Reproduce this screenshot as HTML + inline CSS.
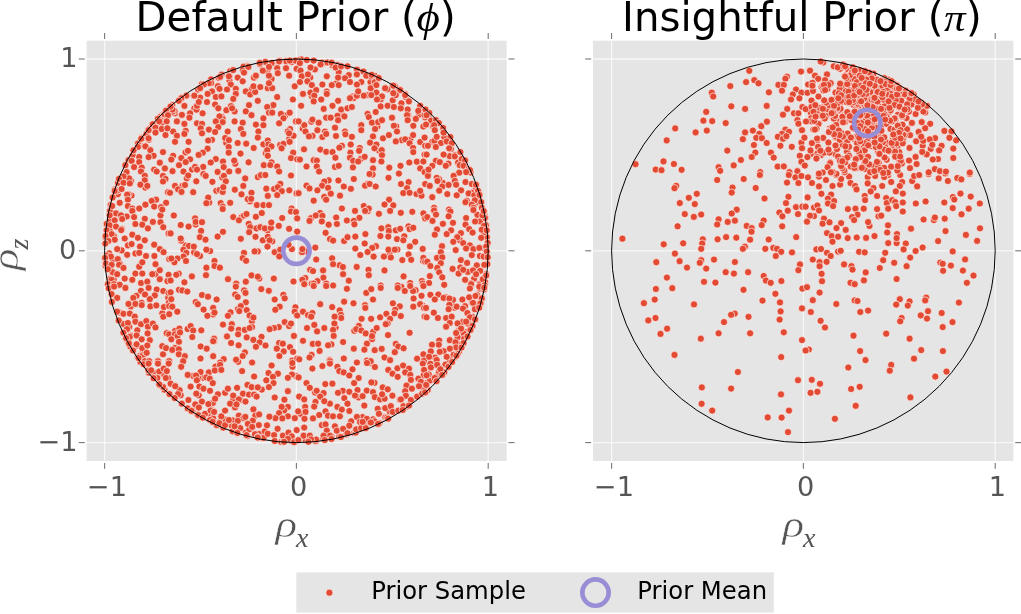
<!DOCTYPE html>
<html><head><meta charset="utf-8"><title>Priors</title>
<style>
html,body{margin:0;padding:0;background:#fff;}
svg{display:block}
text{font-family:"DejaVu Sans","Liberation Sans",sans-serif;}
.tk{font-size:27.2px;fill:#555555;}
.ti{font-size:40.3px;fill:#000;}
.tm{font-family:"Liberation Serif","DejaVu Serif",serif;font-style:italic;}
.lg{font-size:24.3px;fill:#000;}
.lb{font-size:38px;fill:#555555;}
.m{font-family:"Liberation Serif","DejaVu Serif",serif;font-style:italic;fill:#555555;}
.rho{font-size:37px;stroke:#fff;stroke-width:0.5px;}
.sub{font-size:28px;}
</style></head>
<body>
<svg width="1021" height="614" viewBox="0 0 1021 614">
<rect width="1021" height="614" fill="#fff"/>
<rect x="86.6" y="40.7" width="420.1" height="420.3" fill="#E5E5E5"/>
<line x1="104.6" y1="40.7" x2="104.6" y2="461.0" stroke="#fff" stroke-opacity="0.7" stroke-width="1.3"/>
<line x1="86.6" y1="442.6" x2="506.7" y2="442.6" stroke="#fff" stroke-opacity="0.7" stroke-width="1.3"/>
<line x1="104.6" y1="463.0" x2="104.6" y2="468.8" stroke="#777777" stroke-width="1.1"/>
<line x1="104.6" y1="39.0" x2="104.6" y2="33.0" stroke="#777777" stroke-width="1.1"/>
<line x1="84.8" y1="442.6" x2="78.8" y2="442.6" stroke="#777777" stroke-width="1.1"/>
<line x1="508.5" y1="442.6" x2="514.5" y2="442.6" stroke="#777777" stroke-width="1.1"/>
<line x1="296.4" y1="40.7" x2="296.4" y2="461.0" stroke="#fff" stroke-opacity="0.7" stroke-width="1.3"/>
<line x1="86.6" y1="250.8" x2="506.7" y2="250.8" stroke="#fff" stroke-opacity="0.7" stroke-width="1.3"/>
<line x1="296.4" y1="463.0" x2="296.4" y2="468.8" stroke="#777777" stroke-width="1.1"/>
<line x1="296.4" y1="39.0" x2="296.4" y2="33.0" stroke="#777777" stroke-width="1.1"/>
<line x1="84.8" y1="250.8" x2="78.8" y2="250.8" stroke="#777777" stroke-width="1.1"/>
<line x1="508.5" y1="250.8" x2="514.5" y2="250.8" stroke="#777777" stroke-width="1.1"/>
<line x1="488.2" y1="40.7" x2="488.2" y2="461.0" stroke="#fff" stroke-opacity="0.7" stroke-width="1.3"/>
<line x1="86.6" y1="59.0" x2="506.7" y2="59.0" stroke="#fff" stroke-opacity="0.7" stroke-width="1.3"/>
<line x1="488.2" y1="463.0" x2="488.2" y2="468.8" stroke="#777777" stroke-width="1.1"/>
<line x1="488.2" y1="39.0" x2="488.2" y2="33.0" stroke="#777777" stroke-width="1.1"/>
<line x1="84.8" y1="59.0" x2="78.8" y2="59.0" stroke="#777777" stroke-width="1.1"/>
<line x1="508.5" y1="59.0" x2="514.5" y2="59.0" stroke="#777777" stroke-width="1.1"/>
<g fill="#E24A33" stroke="#fff" stroke-width="0.65"><circle cx="315.9" cy="441.2" r="3.58"/><circle cx="122.2" cy="177.0" r="3.58"/><circle cx="140.3" cy="145.5" r="3.58"/><circle cx="281.3" cy="441.9" r="3.58"/><circle cx="484.5" cy="285.8" r="3.58"/><circle cx="458.1" cy="162.4" r="3.58"/><circle cx="400.0" cy="89.7" r="3.58"/><circle cx="172.3" cy="105.1" r="3.58"/><circle cx="112.7" cy="259.7" r="3.58"/><circle cx="465.9" cy="169.2" r="3.58"/><circle cx="475.9" cy="188.1" r="3.58"/><circle cx="332.5" cy="65.2" r="3.58"/><circle cx="154.9" cy="127.6" r="3.58"/><circle cx="283.6" cy="441.1" r="3.58"/><circle cx="148.9" cy="372.7" r="3.58"/><circle cx="479.4" cy="216.8" r="3.58"/><circle cx="476.5" cy="198.5" r="3.58"/><circle cx="115.8" cy="194.7" r="3.58"/><circle cx="427.7" cy="382.3" r="3.58"/><circle cx="458.9" cy="346.9" r="3.58"/><circle cx="175.0" cy="113.3" r="3.58"/><circle cx="441.6" cy="375.0" r="3.58"/><circle cx="466.7" cy="332.1" r="3.58"/><circle cx="138.7" cy="146.0" r="3.58"/><circle cx="291.7" cy="441.0" r="3.58"/><circle cx="171.5" cy="109.8" r="3.58"/><circle cx="405.1" cy="93.8" r="3.58"/><circle cx="130.8" cy="335.4" r="3.58"/><circle cx="454.9" cy="155.1" r="3.58"/><circle cx="197.3" cy="414.5" r="3.58"/><circle cx="365.3" cy="427.3" r="3.58"/><circle cx="460.8" cy="347.5" r="3.58"/><circle cx="115.0" cy="189.4" r="3.58"/><circle cx="433.1" cy="126.6" r="3.58"/><circle cx="451.6" cy="359.9" r="3.58"/><circle cx="427.7" cy="390.0" r="3.58"/><circle cx="480.1" cy="288.7" r="3.58"/><circle cx="137.7" cy="357.2" r="3.58"/><circle cx="210.9" cy="414.5" r="3.58"/><circle cx="162.8" cy="114.3" r="3.58"/><circle cx="374.6" cy="75.8" r="3.58"/><circle cx="246.9" cy="66.2" r="3.58"/><circle cx="261.5" cy="437.9" r="3.58"/><circle cx="210.4" cy="82.0" r="3.58"/><circle cx="230.2" cy="423.1" r="3.58"/><circle cx="109.2" cy="253.3" r="3.58"/><circle cx="115.7" cy="190.8" r="3.58"/><circle cx="484.1" cy="289.5" r="3.58"/><circle cx="392.6" cy="85.5" r="3.58"/><circle cx="113.8" cy="236.0" r="3.58"/><circle cx="398.2" cy="91.0" r="3.58"/><circle cx="469.4" cy="322.5" r="3.58"/><circle cx="105.3" cy="237.1" r="3.58"/><circle cx="202.0" cy="84.0" r="3.58"/><circle cx="387.4" cy="89.3" r="3.58"/><circle cx="140.0" cy="355.8" r="3.58"/><circle cx="143.0" cy="137.8" r="3.58"/><circle cx="429.3" cy="114.3" r="3.58"/><circle cx="484.0" cy="212.1" r="3.58"/><circle cx="148.1" cy="130.1" r="3.58"/><circle cx="130.3" cy="346.5" r="3.58"/><circle cx="112.2" cy="272.7" r="3.58"/><circle cx="449.7" cy="362.1" r="3.58"/><circle cx="459.0" cy="351.7" r="3.58"/><circle cx="468.4" cy="323.6" r="3.58"/><circle cx="355.1" cy="432.7" r="3.58"/><circle cx="106.7" cy="223.9" r="3.58"/><circle cx="110.2" cy="278.8" r="3.58"/><circle cx="148.8" cy="139.7" r="3.58"/><circle cx="141.7" cy="137.7" r="3.58"/><circle cx="476.0" cy="202.8" r="3.58"/><circle cx="354.1" cy="433.0" r="3.58"/><circle cx="301.2" cy="59.4" r="3.58"/><circle cx="484.8" cy="215.7" r="3.58"/><circle cx="110.0" cy="210.9" r="3.58"/><circle cx="258.9" cy="433.9" r="3.58"/><circle cx="122.2" cy="176.8" r="3.58"/><circle cx="174.6" cy="111.1" r="3.58"/><circle cx="192.5" cy="411.1" r="3.58"/><circle cx="395.6" cy="88.1" r="3.58"/><circle cx="486.8" cy="237.2" r="3.58"/><circle cx="143.0" cy="351.5" r="3.58"/><circle cx="115.7" cy="285.8" r="3.58"/><circle cx="423.0" cy="392.9" r="3.58"/><circle cx="132.6" cy="155.1" r="3.58"/><circle cx="339.3" cy="436.4" r="3.58"/><circle cx="481.9" cy="229.8" r="3.58"/><circle cx="485.2" cy="218.1" r="3.58"/><circle cx="140.4" cy="362.0" r="3.58"/><circle cx="324.7" cy="63.0" r="3.58"/><circle cx="470.5" cy="172.5" r="3.58"/><circle cx="425.2" cy="117.4" r="3.58"/><circle cx="164.6" cy="118.5" r="3.58"/><circle cx="198.1" cy="89.6" r="3.58"/><circle cx="123.6" cy="324.0" r="3.58"/><circle cx="438.9" cy="372.4" r="3.58"/><circle cx="172.6" cy="111.6" r="3.58"/><circle cx="370.5" cy="82.1" r="3.58"/><circle cx="127.6" cy="340.9" r="3.58"/><circle cx="484.4" cy="248.3" r="3.58"/><circle cx="153.0" cy="124.1" r="3.58"/><circle cx="218.6" cy="77.8" r="3.58"/><circle cx="154.9" cy="129.8" r="3.58"/><circle cx="471.8" cy="192.8" r="3.58"/><circle cx="120.6" cy="313.1" r="3.58"/><circle cx="160.2" cy="385.6" r="3.58"/><circle cx="295.8" cy="441.0" r="3.58"/><circle cx="480.9" cy="301.3" r="3.58"/><circle cx="184.4" cy="105.9" r="3.58"/><circle cx="190.1" cy="409.9" r="3.58"/><circle cx="118.0" cy="182.8" r="3.58"/><circle cx="337.8" cy="65.1" r="3.58"/><circle cx="443.5" cy="373.6" r="3.58"/><circle cx="291.6" cy="435.8" r="3.58"/><circle cx="472.3" cy="316.9" r="3.58"/><circle cx="379.5" cy="423.1" r="3.58"/><circle cx="460.7" cy="344.6" r="3.58"/><circle cx="429.2" cy="112.8" r="3.58"/><circle cx="483.7" cy="232.3" r="3.58"/><circle cx="357.0" cy="69.7" r="3.58"/><circle cx="133.2" cy="150.3" r="3.58"/><circle cx="223.3" cy="427.7" r="3.58"/><circle cx="121.6" cy="179.6" r="3.58"/><circle cx="109.2" cy="266.5" r="3.58"/><circle cx="309.5" cy="440.8" r="3.58"/><circle cx="466.1" cy="170.2" r="3.58"/><circle cx="213.5" cy="422.1" r="3.58"/><circle cx="478.9" cy="193.1" r="3.58"/><circle cx="298.0" cy="60.3" r="3.58"/><circle cx="263.5" cy="437.9" r="3.58"/><circle cx="221.1" cy="419.2" r="3.58"/><circle cx="137.9" cy="143.5" r="3.58"/><circle cx="243.5" cy="66.7" r="3.58"/><circle cx="385.3" cy="417.2" r="3.58"/><circle cx="267.9" cy="69.3" r="3.58"/><circle cx="477.4" cy="214.8" r="3.58"/><circle cx="299.6" cy="63.6" r="3.58"/><circle cx="486.3" cy="225.4" r="3.58"/><circle cx="365.6" cy="423.4" r="3.58"/><circle cx="431.2" cy="120.6" r="3.58"/><circle cx="485.2" cy="282.0" r="3.58"/><circle cx="340.1" cy="66.4" r="3.58"/><circle cx="230.3" cy="71.0" r="3.58"/><circle cx="136.4" cy="345.7" r="3.58"/><circle cx="229.5" cy="76.2" r="3.58"/><circle cx="161.4" cy="122.9" r="3.58"/><circle cx="444.3" cy="137.2" r="3.58"/><circle cx="150.1" cy="128.3" r="3.58"/><circle cx="480.2" cy="221.4" r="3.58"/><circle cx="327.5" cy="62.5" r="3.58"/><circle cx="457.6" cy="353.9" r="3.58"/><circle cx="259.9" cy="64.3" r="3.58"/><circle cx="271.6" cy="63.2" r="3.58"/><circle cx="214.4" cy="423.0" r="3.58"/><circle cx="435.9" cy="377.1" r="3.58"/><circle cx="242.9" cy="70.3" r="3.58"/><circle cx="160.3" cy="116.9" r="3.58"/><circle cx="255.0" cy="434.2" r="3.58"/><circle cx="346.2" cy="434.4" r="3.58"/><circle cx="155.3" cy="373.3" r="3.58"/><circle cx="378.7" cy="78.8" r="3.58"/><circle cx="374.8" cy="82.1" r="3.58"/><circle cx="305.9" cy="440.4" r="3.58"/><circle cx="245.8" cy="432.6" r="3.58"/><circle cx="445.5" cy="364.5" r="3.58"/><circle cx="331.6" cy="436.5" r="3.58"/><circle cx="128.5" cy="160.1" r="3.58"/><circle cx="419.2" cy="114.5" r="3.58"/><circle cx="444.3" cy="372.4" r="3.58"/><circle cx="232.5" cy="430.2" r="3.58"/><circle cx="129.0" cy="337.9" r="3.58"/><circle cx="216.8" cy="425.2" r="3.58"/><circle cx="152.8" cy="124.4" r="3.58"/><circle cx="193.5" cy="95.8" r="3.58"/><circle cx="130.7" cy="335.8" r="3.58"/><circle cx="109.6" cy="230.5" r="3.58"/><circle cx="249.3" cy="429.3" r="3.58"/><circle cx="468.1" cy="323.7" r="3.58"/><circle cx="405.8" cy="406.9" r="3.58"/><circle cx="153.6" cy="128.8" r="3.58"/><circle cx="163.9" cy="114.1" r="3.58"/><circle cx="463.7" cy="333.6" r="3.58"/><circle cx="146.5" cy="133.9" r="3.58"/><circle cx="355.8" cy="432.6" r="3.58"/><circle cx="450.9" cy="149.0" r="3.58"/><circle cx="117.8" cy="194.2" r="3.58"/><circle cx="110.7" cy="269.8" r="3.58"/><circle cx="364.6" cy="426.7" r="3.58"/><circle cx="430.2" cy="380.3" r="3.58"/><circle cx="405.3" cy="95.6" r="3.58"/><circle cx="156.6" cy="377.4" r="3.58"/><circle cx="164.5" cy="389.7" r="3.58"/><circle cx="405.8" cy="97.1" r="3.58"/><circle cx="389.6" cy="411.6" r="3.58"/><circle cx="119.7" cy="312.5" r="3.58"/><circle cx="477.0" cy="295.1" r="3.58"/><circle cx="370.1" cy="76.5" r="3.58"/><circle cx="113.7" cy="279.7" r="3.58"/><circle cx="211.1" cy="79.4" r="3.58"/><circle cx="180.7" cy="395.2" r="3.58"/><circle cx="148.4" cy="370.2" r="3.58"/><circle cx="105.5" cy="265.7" r="3.58"/><circle cx="211.2" cy="83.1" r="3.58"/><circle cx="106.9" cy="255.5" r="3.58"/><circle cx="164.5" cy="114.3" r="3.58"/><circle cx="439.8" cy="368.2" r="3.58"/><circle cx="110.6" cy="205.0" r="3.58"/><circle cx="110.6" cy="221.6" r="3.58"/><circle cx="286.2" cy="61.2" r="3.58"/><circle cx="291.8" cy="61.9" r="3.58"/><circle cx="477.7" cy="304.9" r="3.58"/><circle cx="221.5" cy="74.7" r="3.58"/><circle cx="424.4" cy="390.0" r="3.58"/><circle cx="143.1" cy="354.7" r="3.58"/><circle cx="486.2" cy="274.1" r="3.58"/><circle cx="394.9" cy="86.4" r="3.58"/><circle cx="475.2" cy="319.6" r="3.58"/><circle cx="323.1" cy="438.4" r="3.58"/><circle cx="129.3" cy="326.9" r="3.58"/><circle cx="247.4" cy="436.1" r="3.58"/><circle cx="264.8" cy="431.4" r="3.58"/><circle cx="117.4" cy="190.6" r="3.58"/><circle cx="169.3" cy="394.0" r="3.58"/><circle cx="321.9" cy="62.7" r="3.58"/><circle cx="485.8" cy="225.2" r="3.58"/><circle cx="213.1" cy="418.3" r="3.58"/><circle cx="110.0" cy="220.6" r="3.58"/><circle cx="454.5" cy="357.4" r="3.58"/><circle cx="279.6" cy="60.7" r="3.58"/><circle cx="373.1" cy="419.3" r="3.58"/><circle cx="209.2" cy="202.6" r="3.58"/><circle cx="428.1" cy="173.3" r="3.58"/><circle cx="442.7" cy="182.9" r="3.58"/><circle cx="145.3" cy="187.6" r="3.58"/><circle cx="215.5" cy="366.6" r="3.58"/><circle cx="185.6" cy="152.4" r="3.58"/><circle cx="237.9" cy="309.1" r="3.58"/><circle cx="288.1" cy="131.2" r="3.58"/><circle cx="185.7" cy="245.5" r="3.58"/><circle cx="268.6" cy="148.2" r="3.58"/><circle cx="241.7" cy="217.1" r="3.58"/><circle cx="251.9" cy="321.2" r="3.58"/><circle cx="365.0" cy="305.2" r="3.58"/><circle cx="136.5" cy="295.8" r="3.58"/><circle cx="141.6" cy="302.8" r="3.58"/><circle cx="280.3" cy="145.9" r="3.58"/><circle cx="354.3" cy="330.8" r="3.58"/><circle cx="336.1" cy="83.5" r="3.58"/><circle cx="408.5" cy="226.4" r="3.58"/><circle cx="352.5" cy="96.5" r="3.58"/><circle cx="353.7" cy="98.0" r="3.58"/><circle cx="448.4" cy="163.7" r="3.58"/><circle cx="202.9" cy="377.8" r="3.58"/><circle cx="367.7" cy="211.2" r="3.58"/><circle cx="226.2" cy="142.8" r="3.58"/><circle cx="285.2" cy="115.6" r="3.58"/><circle cx="320.2" cy="213.0" r="3.58"/><circle cx="401.4" cy="286.9" r="3.58"/><circle cx="305.3" cy="278.0" r="3.58"/><circle cx="186.8" cy="178.3" r="3.58"/><circle cx="166.7" cy="333.2" r="3.58"/><circle cx="192.0" cy="169.5" r="3.58"/><circle cx="460.3" cy="267.5" r="3.58"/><circle cx="360.9" cy="158.8" r="3.58"/><circle cx="454.3" cy="307.7" r="3.58"/><circle cx="155.4" cy="274.1" r="3.58"/><circle cx="459.9" cy="240.2" r="3.58"/><circle cx="311.3" cy="95.2" r="3.58"/><circle cx="302.8" cy="128.7" r="3.58"/><circle cx="216.3" cy="190.8" r="3.58"/><circle cx="379.1" cy="150.6" r="3.58"/><circle cx="452.4" cy="305.2" r="3.58"/><circle cx="445.8" cy="297.3" r="3.58"/><circle cx="162.3" cy="313.3" r="3.58"/><circle cx="341.3" cy="114.4" r="3.58"/><circle cx="181.2" cy="240.7" r="3.58"/><circle cx="423.0" cy="260.7" r="3.58"/><circle cx="339.6" cy="265.3" r="3.58"/><circle cx="397.4" cy="249.6" r="3.58"/><circle cx="265.8" cy="239.5" r="3.58"/><circle cx="422.8" cy="305.8" r="3.58"/><circle cx="335.6" cy="327.6" r="3.58"/><circle cx="315.1" cy="392.6" r="3.58"/><circle cx="175.0" cy="347.9" r="3.58"/><circle cx="283.4" cy="294.8" r="3.58"/><circle cx="289.3" cy="138.5" r="3.58"/><circle cx="193.2" cy="375.9" r="3.58"/><circle cx="175.1" cy="330.9" r="3.58"/><circle cx="203.4" cy="174.0" r="3.58"/><circle cx="241.0" cy="400.2" r="3.58"/><circle cx="424.8" cy="216.8" r="3.58"/><circle cx="168.6" cy="361.3" r="3.58"/><circle cx="311.8" cy="96.1" r="3.58"/><circle cx="439.0" cy="179.1" r="3.58"/><circle cx="300.5" cy="413.8" r="3.58"/><circle cx="235.0" cy="407.4" r="3.58"/><circle cx="267.6" cy="230.4" r="3.58"/><circle cx="292.5" cy="366.8" r="3.58"/><circle cx="311.4" cy="121.7" r="3.58"/><circle cx="295.9" cy="376.1" r="3.58"/><circle cx="198.3" cy="378.4" r="3.58"/><circle cx="278.8" cy="416.2" r="3.58"/><circle cx="222.3" cy="177.6" r="3.58"/><circle cx="396.2" cy="126.3" r="3.58"/><circle cx="231.0" cy="106.1" r="3.58"/><circle cx="238.2" cy="361.8" r="3.58"/><circle cx="410.3" cy="139.6" r="3.58"/><circle cx="272.3" cy="241.3" r="3.58"/><circle cx="370.7" cy="363.1" r="3.58"/><circle cx="415.6" cy="290.2" r="3.58"/><circle cx="244.2" cy="290.4" r="3.58"/><circle cx="257.8" cy="251.4" r="3.58"/><circle cx="221.8" cy="116.9" r="3.58"/><circle cx="251.9" cy="89.1" r="3.58"/><circle cx="290.1" cy="129.0" r="3.58"/><circle cx="380.8" cy="99.3" r="3.58"/><circle cx="326.8" cy="91.5" r="3.58"/><circle cx="453.0" cy="299.8" r="3.58"/><circle cx="235.3" cy="163.7" r="3.58"/><circle cx="168.2" cy="297.7" r="3.58"/><circle cx="214.3" cy="340.9" r="3.58"/><circle cx="305.6" cy="251.4" r="3.58"/><circle cx="421.9" cy="281.0" r="3.58"/><circle cx="250.0" cy="201.4" r="3.58"/><circle cx="168.8" cy="302.8" r="3.58"/><circle cx="220.7" cy="203.1" r="3.58"/><circle cx="331.4" cy="344.4" r="3.58"/><circle cx="244.9" cy="352.4" r="3.58"/><circle cx="182.5" cy="185.9" r="3.58"/><circle cx="312.5" cy="135.9" r="3.58"/><circle cx="280.2" cy="144.9" r="3.58"/><circle cx="311.1" cy="218.1" r="3.58"/><circle cx="233.2" cy="399.0" r="3.58"/><circle cx="377.4" cy="126.6" r="3.58"/><circle cx="359.8" cy="148.0" r="3.58"/><circle cx="329.5" cy="360.2" r="3.58"/><circle cx="271.4" cy="106.3" r="3.58"/><circle cx="389.6" cy="252.7" r="3.58"/><circle cx="372.0" cy="339.2" r="3.58"/><circle cx="195.6" cy="224.5" r="3.58"/><circle cx="265.8" cy="153.2" r="3.58"/><circle cx="401.8" cy="140.2" r="3.58"/><circle cx="449.1" cy="209.5" r="3.58"/><circle cx="271.5" cy="162.4" r="3.58"/><circle cx="259.3" cy="278.5" r="3.58"/><circle cx="194.1" cy="252.3" r="3.58"/><circle cx="213.1" cy="314.5" r="3.58"/><circle cx="178.7" cy="273.7" r="3.58"/><circle cx="311.7" cy="283.6" r="3.58"/><circle cx="367.6" cy="183.8" r="3.58"/><circle cx="467.9" cy="271.9" r="3.58"/><circle cx="131.5" cy="195.5" r="3.58"/><circle cx="390.2" cy="105.3" r="3.58"/><circle cx="117.8" cy="284.9" r="3.58"/><circle cx="145.2" cy="351.7" r="3.58"/><circle cx="232.7" cy="420.4" r="3.58"/><circle cx="210.7" cy="409.0" r="3.58"/><circle cx="472.4" cy="203.9" r="3.58"/><circle cx="179.6" cy="390.2" r="3.58"/><circle cx="457.7" cy="337.3" r="3.58"/><circle cx="212.9" cy="402.9" r="3.58"/><circle cx="474.1" cy="278.7" r="3.58"/><circle cx="119.8" cy="263.6" r="3.58"/><circle cx="362.5" cy="417.1" r="3.58"/><circle cx="408.2" cy="115.2" r="3.58"/><circle cx="435.1" cy="357.6" r="3.58"/><circle cx="130.9" cy="180.9" r="3.58"/><circle cx="423.6" cy="375.4" r="3.58"/><circle cx="217.9" cy="86.2" r="3.58"/><circle cx="168.1" cy="378.0" r="3.58"/><circle cx="399.8" cy="399.7" r="3.58"/><circle cx="253.0" cy="425.9" r="3.58"/><circle cx="164.9" cy="374.1" r="3.58"/><circle cx="471.1" cy="283.4" r="3.58"/><circle cx="449.7" cy="156.2" r="3.58"/><circle cx="440.9" cy="143.0" r="3.58"/><circle cx="130.8" cy="306.4" r="3.58"/><circle cx="472.1" cy="302.2" r="3.58"/><circle cx="225.2" cy="419.5" r="3.58"/><circle cx="229.5" cy="80.8" r="3.58"/><circle cx="432.3" cy="141.6" r="3.58"/><circle cx="128.6" cy="194.3" r="3.58"/><circle cx="121.8" cy="229.1" r="3.58"/><circle cx="126.7" cy="216.5" r="3.58"/><circle cx="163.8" cy="374.3" r="3.58"/><circle cx="271.6" cy="78.9" r="3.58"/><circle cx="428.7" cy="374.4" r="3.58"/><circle cx="253.9" cy="77.7" r="3.58"/><circle cx="434.4" cy="140.8" r="3.58"/><circle cx="194.4" cy="108.4" r="3.58"/><circle cx="462.8" cy="321.9" r="3.58"/><circle cx="392.7" cy="100.3" r="3.58"/><circle cx="264.8" cy="70.8" r="3.58"/><circle cx="458.1" cy="331.2" r="3.58"/><circle cx="196.5" cy="109.7" r="3.58"/><circle cx="392.4" cy="395.7" r="3.58"/><circle cx="466.8" cy="200.8" r="3.58"/><circle cx="430.4" cy="363.8" r="3.58"/><circle cx="310.3" cy="77.5" r="3.58"/><circle cx="372.5" cy="87.5" r="3.58"/><circle cx="295.4" cy="60.6" r="3.58"/><circle cx="289.7" cy="60.6" r="3.58"/><circle cx="279.1" cy="61.5" r="3.58"/><circle cx="265.3" cy="61.9" r="3.58"/><circle cx="259.7" cy="62.9" r="3.58"/><circle cx="269.0" cy="66.9" r="3.58"/><circle cx="277.2" cy="68.2" r="3.58"/><circle cx="286.0" cy="68.2" r="3.58"/><circle cx="296.6" cy="68.8" r="3.58"/><circle cx="262.8" cy="70.7" r="3.58"/><circle cx="277.8" cy="73.2" r="3.58"/><circle cx="269.0" cy="75.7" r="3.58"/><circle cx="289.1" cy="75.7" r="3.58"/><circle cx="255.9" cy="75.7" r="3.58"/><circle cx="248.4" cy="66.9" r="3.58"/><circle cx="244.0" cy="72.6" r="3.58"/><circle cx="233.2" cy="70.1" r="3.58"/><circle cx="237.7" cy="77.6" r="3.58"/><circle cx="228.9" cy="76.3" r="3.58"/><circle cx="220.1" cy="76.9" r="3.58"/><circle cx="242.7" cy="81.3" r="3.58"/><circle cx="230.8" cy="84.5" r="3.58"/><circle cx="208.9" cy="83.2" r="3.58"/><circle cx="203.8" cy="84.5" r="3.58"/><circle cx="200.1" cy="88.2" r="3.58"/><circle cx="219.5" cy="88.8" r="3.58"/><circle cx="227.0" cy="89.5" r="3.58"/><circle cx="235.8" cy="88.8" r="3.58"/><circle cx="212.0" cy="91.4" r="3.58"/><circle cx="207.6" cy="93.9" r="3.58"/><circle cx="200.1" cy="97.6" r="3.58"/><circle cx="194.4" cy="95.7" r="3.58"/><circle cx="186.3" cy="95.7" r="3.58"/><circle cx="181.3" cy="98.2" r="3.58"/><circle cx="178.8" cy="100.8" r="3.58"/><circle cx="172.5" cy="109.5" r="3.58"/><circle cx="215.8" cy="97.0" r="3.58"/><circle cx="221.4" cy="96.4" r="3.58"/><circle cx="235.8" cy="93.9" r="3.58"/><circle cx="233.3" cy="98.9" r="3.58"/><circle cx="245.8" cy="91.4" r="3.58"/><circle cx="250.2" cy="94.5" r="3.58"/><circle cx="255.2" cy="92.0" r="3.58"/><circle cx="253.4" cy="86.3" r="3.58"/><circle cx="260.3" cy="87.0" r="3.58"/><circle cx="267.8" cy="88.2" r="3.58"/><circle cx="272.2" cy="88.2" r="3.58"/><circle cx="269.0" cy="83.2" r="3.58"/><circle cx="294.7" cy="86.3" r="3.58"/><circle cx="277.2" cy="97.0" r="3.58"/><circle cx="292.9" cy="99.5" r="3.58"/><circle cx="257.8" cy="100.8" r="3.58"/><circle cx="249.0" cy="105.1" r="3.58"/><circle cx="273.4" cy="105.1" r="3.58"/><circle cx="267.2" cy="107.0" r="3.58"/><circle cx="207.0" cy="102.0" r="3.58"/><circle cx="197.0" cy="105.8" r="3.58"/><circle cx="198.8" cy="102.0" r="3.58"/><circle cx="215.1" cy="104.5" r="3.58"/><circle cx="218.3" cy="108.3" r="3.58"/><circle cx="226.4" cy="110.2" r="3.58"/><circle cx="234.6" cy="111.4" r="3.58"/><circle cx="232.1" cy="108.3" r="3.58"/><circle cx="245.8" cy="111.4" r="3.58"/><circle cx="251.5" cy="115.2" r="3.58"/><circle cx="269.0" cy="112.7" r="3.58"/><circle cx="272.2" cy="112.7" r="3.58"/><circle cx="280.9" cy="113.9" r="3.58"/><circle cx="289.7" cy="112.7" r="3.58"/><circle cx="263.4" cy="118.3" r="3.58"/><circle cx="283.5" cy="118.3" r="3.58"/><circle cx="296.0" cy="121.4" r="3.58"/><circle cx="279.1" cy="123.3" r="3.58"/><circle cx="255.9" cy="124.6" r="3.58"/><circle cx="263.4" cy="125.2" r="3.58"/><circle cx="242.7" cy="122.7" r="3.58"/><circle cx="234.6" cy="121.4" r="3.58"/><circle cx="240.8" cy="129.0" r="3.58"/><circle cx="222.7" cy="118.9" r="3.58"/><circle cx="219.5" cy="116.4" r="3.58"/><circle cx="222.7" cy="122.1" r="3.58"/><circle cx="215.8" cy="121.4" r="3.58"/><circle cx="218.3" cy="127.1" r="3.58"/><circle cx="202.6" cy="113.3" r="3.58"/><circle cx="190.1" cy="113.3" r="3.58"/><circle cx="181.9" cy="114.9" r="3.58"/><circle cx="189.4" cy="117.7" r="3.58"/><circle cx="176.9" cy="121.4" r="3.58"/><circle cx="184.4" cy="123.9" r="3.58"/><circle cx="197.0" cy="123.3" r="3.58"/><circle cx="202.0" cy="123.9" r="3.58"/><circle cx="200.7" cy="128.3" r="3.58"/><circle cx="208.9" cy="129.6" r="3.58"/><circle cx="227.7" cy="131.5" r="3.58"/><circle cx="185.7" cy="130.8" r="3.58"/><circle cx="173.1" cy="131.5" r="3.58"/><circle cx="258.4" cy="131.5" r="3.58"/><circle cx="287.8" cy="131.5" r="3.58"/><circle cx="299.9" cy="63.1" r="3.58"/><circle cx="306.8" cy="60.0" r="3.58"/><circle cx="313.7" cy="60.6" r="3.58"/><circle cx="320.6" cy="64.4" r="3.58"/><circle cx="327.5" cy="62.5" r="3.58"/><circle cx="331.7" cy="62.7" r="3.58"/><circle cx="300.5" cy="70.7" r="3.58"/><circle cx="314.9" cy="69.4" r="3.58"/><circle cx="310.5" cy="67.5" r="3.58"/><circle cx="301.8" cy="76.3" r="3.58"/><circle cx="308.0" cy="74.4" r="3.58"/><circle cx="299.9" cy="82.0" r="3.58"/><circle cx="307.4" cy="81.3" r="3.58"/><circle cx="311.8" cy="85.1" r="3.58"/><circle cx="326.8" cy="76.3" r="3.58"/><circle cx="322.4" cy="84.5" r="3.58"/><circle cx="331.8" cy="85.1" r="3.58"/><circle cx="338.7" cy="71.9" r="3.58"/><circle cx="335.6" cy="67.5" r="3.58"/><circle cx="341.2" cy="66.3" r="3.58"/><circle cx="347.5" cy="66.3" r="3.58"/><circle cx="348.8" cy="75.1" r="3.58"/><circle cx="345.0" cy="78.2" r="3.58"/><circle cx="338.1" cy="77.6" r="3.58"/><circle cx="338.7" cy="85.1" r="3.58"/><circle cx="350.0" cy="82.0" r="3.58"/><circle cx="356.9" cy="74.4" r="3.58"/><circle cx="363.5" cy="71.5" r="3.58"/><circle cx="366.3" cy="75.7" r="3.58"/><circle cx="371.6" cy="74.8" r="3.58"/><circle cx="378.7" cy="78.0" r="3.58"/><circle cx="361.3" cy="82.0" r="3.58"/><circle cx="356.9" cy="84.5" r="3.58"/><circle cx="370.7" cy="88.2" r="3.58"/><circle cx="376.4" cy="85.1" r="3.58"/><circle cx="385.1" cy="88.2" r="3.58"/><circle cx="393.3" cy="85.7" r="3.58"/><circle cx="400.2" cy="90.1" r="3.58"/><circle cx="395.8" cy="95.1" r="3.58"/><circle cx="393.3" cy="93.2" r="3.58"/><circle cx="405.2" cy="95.1" r="3.58"/><circle cx="408.9" cy="101.4" r="3.58"/><circle cx="401.4" cy="103.3" r="3.58"/><circle cx="420.2" cy="105.8" r="3.58"/><circle cx="407.7" cy="109.5" r="3.58"/><circle cx="418.3" cy="110.8" r="3.58"/><circle cx="424.6" cy="115.2" r="3.58"/><circle cx="407.1" cy="115.2" r="3.58"/><circle cx="415.8" cy="118.9" r="3.58"/><circle cx="407.7" cy="120.2" r="3.58"/><circle cx="413.3" cy="125.8" r="3.58"/><circle cx="423.4" cy="126.5" r="3.58"/><circle cx="376.4" cy="92.6" r="3.58"/><circle cx="382.0" cy="96.4" r="3.58"/><circle cx="377.0" cy="99.5" r="3.58"/><circle cx="368.2" cy="95.1" r="3.58"/><circle cx="371.3" cy="95.1" r="3.58"/><circle cx="363.8" cy="95.7" r="3.58"/><circle cx="356.9" cy="95.7" r="3.58"/><circle cx="358.2" cy="91.4" r="3.58"/><circle cx="350.0" cy="98.2" r="3.58"/><circle cx="303.0" cy="93.9" r="3.58"/><circle cx="310.5" cy="92.6" r="3.58"/><circle cx="316.2" cy="90.1" r="3.58"/><circle cx="314.3" cy="95.7" r="3.58"/><circle cx="326.8" cy="93.9" r="3.58"/><circle cx="321.2" cy="99.5" r="3.58"/><circle cx="313.7" cy="101.4" r="3.58"/><circle cx="338.1" cy="100.8" r="3.58"/><circle cx="332.5" cy="105.8" r="3.58"/><circle cx="301.1" cy="105.8" r="3.58"/><circle cx="323.7" cy="108.9" r="3.58"/><circle cx="341.2" cy="109.5" r="3.58"/><circle cx="347.5" cy="108.3" r="3.58"/><circle cx="351.9" cy="107.0" r="3.58"/><circle cx="380.7" cy="106.4" r="3.58"/><circle cx="387.6" cy="105.8" r="3.58"/><circle cx="393.9" cy="107.0" r="3.58"/><circle cx="400.8" cy="108.3" r="3.58"/><circle cx="375.7" cy="112.0" r="3.58"/><circle cx="367.6" cy="113.9" r="3.58"/><circle cx="368.8" cy="117.1" r="3.58"/><circle cx="337.5" cy="115.8" r="3.58"/><circle cx="344.4" cy="116.4" r="3.58"/><circle cx="326.2" cy="117.7" r="3.58"/><circle cx="330.6" cy="117.7" r="3.58"/><circle cx="312.4" cy="119.6" r="3.58"/><circle cx="318.7" cy="122.7" r="3.58"/><circle cx="338.1" cy="120.2" r="3.58"/><circle cx="304.3" cy="125.2" r="3.58"/><circle cx="298.6" cy="121.4" r="3.58"/><circle cx="317.4" cy="130.2" r="3.58"/><circle cx="335.0" cy="127.7" r="3.58"/><circle cx="305.5" cy="131.5" r="3.58"/><circle cx="361.3" cy="125.2" r="3.58"/><circle cx="372.0" cy="122.7" r="3.58"/><circle cx="378.2" cy="122.1" r="3.58"/><circle cx="382.0" cy="120.2" r="3.58"/><circle cx="392.0" cy="117.7" r="3.58"/><circle cx="393.9" cy="125.8" r="3.58"/><circle cx="375.1" cy="129.0" r="3.58"/><circle cx="361.3" cy="130.2" r="3.58"/><circle cx="345.0" cy="131.5" r="3.58"/><circle cx="325.0" cy="131.5" r="3.58"/><circle cx="397.0" cy="131.5" r="3.58"/><circle cx="425.5" cy="109.5" r="3.58"/><circle cx="426.6" cy="115.2" r="3.58"/><circle cx="436.0" cy="120.2" r="3.58"/><circle cx="438.9" cy="123.0" r="3.58"/><circle cx="426.0" cy="124.6" r="3.58"/><circle cx="434.1" cy="125.2" r="3.58"/><circle cx="443.2" cy="128.0" r="3.58"/><circle cx="434.8" cy="130.2" r="3.58"/><circle cx="170.5" cy="106.6" r="3.58"/><circle cx="166.0" cy="110.7" r="3.58"/><circle cx="168.0" cy="115.2" r="3.58"/><circle cx="157.8" cy="118.8" r="3.58"/><circle cx="159.2" cy="121.4" r="3.58"/><circle cx="166.7" cy="121.4" r="3.58"/><circle cx="152.7" cy="124.3" r="3.58"/><circle cx="155.5" cy="127.7" r="3.58"/><circle cx="161.7" cy="129.0" r="3.58"/><circle cx="167.4" cy="128.3" r="3.58"/><circle cx="148.6" cy="130.2" r="3.58"/><circle cx="155.5" cy="132.6" r="3.58"/><circle cx="165.5" cy="135.1" r="3.58"/><circle cx="148.6" cy="138.3" r="3.58"/><circle cx="141.2" cy="138.8" r="3.58"/><circle cx="145.4" cy="146.4" r="3.58"/><circle cx="137.9" cy="147.0" r="3.58"/><circle cx="133.5" cy="150.3" r="3.58"/><circle cx="150.4" cy="150.2" r="3.58"/><circle cx="163.0" cy="152.1" r="3.58"/><circle cx="153.6" cy="155.8" r="3.58"/><circle cx="148.6" cy="157.1" r="3.58"/><circle cx="139.2" cy="157.1" r="3.58"/><circle cx="131.6" cy="160.8" r="3.58"/><circle cx="139.2" cy="162.1" r="3.58"/><circle cx="159.8" cy="162.7" r="3.58"/><circle cx="125.4" cy="165.2" r="3.58"/><circle cx="134.1" cy="167.1" r="3.58"/><circle cx="141.7" cy="167.7" r="3.58"/><circle cx="164.9" cy="168.4" r="3.58"/><circle cx="154.2" cy="169.6" r="3.58"/><circle cx="156.7" cy="171.5" r="3.58"/><circle cx="141.0" cy="171.5" r="3.58"/><circle cx="126.6" cy="172.1" r="3.58"/><circle cx="144.8" cy="175.9" r="3.58"/><circle cx="163.0" cy="175.9" r="3.58"/><circle cx="165.5" cy="179.0" r="3.58"/><circle cx="163.0" cy="181.5" r="3.58"/><circle cx="129.1" cy="178.4" r="3.58"/><circle cx="123.5" cy="176.5" r="3.58"/><circle cx="119.0" cy="178.9" r="3.58"/><circle cx="123.5" cy="182.8" r="3.58"/><circle cx="129.8" cy="183.4" r="3.58"/><circle cx="144.8" cy="180.3" r="3.58"/><circle cx="140.4" cy="184.7" r="3.58"/><circle cx="147.3" cy="185.9" r="3.58"/><circle cx="121.6" cy="189.0" r="3.58"/><circle cx="114.7" cy="190.9" r="3.58"/><circle cx="127.2" cy="194.7" r="3.58"/><circle cx="168.0" cy="192.2" r="3.58"/><circle cx="112.6" cy="197.5" r="3.58"/><circle cx="127.9" cy="199.7" r="3.58"/><circle cx="156.1" cy="199.7" r="3.58"/><circle cx="151.7" cy="200.9" r="3.58"/><circle cx="119.7" cy="202.8" r="3.58"/><circle cx="145.4" cy="204.7" r="3.58"/><circle cx="166.1" cy="202.8" r="3.58"/><circle cx="112.2" cy="206.0" r="3.58"/><circle cx="127.9" cy="206.0" r="3.58"/><circle cx="154.2" cy="206.6" r="3.58"/><circle cx="161.1" cy="207.2" r="3.58"/><circle cx="132.3" cy="208.5" r="3.58"/><circle cx="139.2" cy="208.5" r="3.58"/><circle cx="176.9" cy="135.8" r="3.58"/><circle cx="184.4" cy="133.9" r="3.58"/><circle cx="175.0" cy="141.8" r="3.58"/><circle cx="188.6" cy="141.8" r="3.58"/><circle cx="202.0" cy="133.3" r="3.58"/><circle cx="215.1" cy="132.0" r="3.58"/><circle cx="212.0" cy="139.8" r="3.58"/><circle cx="208.2" cy="140.5" r="3.58"/><circle cx="225.2" cy="138.0" r="3.58"/><circle cx="228.9" cy="140.1" r="3.58"/><circle cx="243.3" cy="133.9" r="3.58"/><circle cx="257.8" cy="137.6" r="3.58"/><circle cx="237.7" cy="143.0" r="3.58"/><circle cx="246.2" cy="143.7" r="3.58"/><circle cx="253.7" cy="148.0" r="3.58"/><circle cx="263.4" cy="144.3" r="3.58"/><circle cx="267.8" cy="140.5" r="3.58"/><circle cx="268.4" cy="144.5" r="3.58"/><circle cx="271.5" cy="146.4" r="3.58"/><circle cx="267.2" cy="150.2" r="3.58"/><circle cx="267.8" cy="155.8" r="3.58"/><circle cx="283.5" cy="143.9" r="3.58"/><circle cx="289.7" cy="141.8" r="3.58"/><circle cx="281.6" cy="148.3" r="3.58"/><circle cx="293.5" cy="135.8" r="3.58"/><circle cx="289.1" cy="133.3" r="3.58"/><circle cx="293.2" cy="152.7" r="3.58"/><circle cx="291.0" cy="158.1" r="3.58"/><circle cx="297.2" cy="159.3" r="3.58"/><circle cx="187.9" cy="150.8" r="3.58"/><circle cx="207.6" cy="148.7" r="3.58"/><circle cx="202.8" cy="152.7" r="3.58"/><circle cx="198.6" cy="154.9" r="3.58"/><circle cx="228.7" cy="147.0" r="3.58"/><circle cx="228.7" cy="152.7" r="3.58"/><circle cx="240.5" cy="153.6" r="3.58"/><circle cx="173.1" cy="155.8" r="3.58"/><circle cx="181.3" cy="158.1" r="3.58"/><circle cx="171.3" cy="159.6" r="3.58"/><circle cx="190.1" cy="159.3" r="3.58"/><circle cx="185.7" cy="162.1" r="3.58"/><circle cx="215.8" cy="159.0" r="3.58"/><circle cx="210.7" cy="162.5" r="3.58"/><circle cx="223.0" cy="161.5" r="3.58"/><circle cx="234.2" cy="160.6" r="3.58"/><circle cx="248.6" cy="162.3" r="3.58"/><circle cx="179.0" cy="165.2" r="3.58"/><circle cx="195.1" cy="166.9" r="3.58"/><circle cx="203.2" cy="166.9" r="3.58"/><circle cx="197.0" cy="169.6" r="3.58"/><circle cx="223.7" cy="167.1" r="3.58"/><circle cx="217.6" cy="171.9" r="3.58"/><circle cx="229.2" cy="171.5" r="3.58"/><circle cx="238.3" cy="170.9" r="3.58"/><circle cx="263.8" cy="165.2" r="3.58"/><circle cx="270.3" cy="165.0" r="3.58"/><circle cx="277.2" cy="166.5" r="3.58"/><circle cx="279.1" cy="171.5" r="3.58"/><circle cx="172.5" cy="171.2" r="3.58"/><circle cx="183.5" cy="171.5" r="3.58"/><circle cx="188.2" cy="175.5" r="3.58"/><circle cx="205.7" cy="175.9" r="3.58"/><circle cx="223.9" cy="175.9" r="3.58"/><circle cx="225.8" cy="181.3" r="3.58"/><circle cx="212.4" cy="181.8" r="3.58"/><circle cx="245.2" cy="178.4" r="3.58"/><circle cx="257.8" cy="177.1" r="3.58"/><circle cx="260.9" cy="175.2" r="3.58"/><circle cx="265.3" cy="175.0" r="3.58"/><circle cx="291.0" cy="175.5" r="3.58"/><circle cx="196.3" cy="181.3" r="3.58"/><circle cx="185.0" cy="185.0" r="3.58"/><circle cx="175.0" cy="185.9" r="3.58"/><circle cx="178.1" cy="189.4" r="3.58"/><circle cx="181.5" cy="191.9" r="3.58"/><circle cx="193.2" cy="192.2" r="3.58"/><circle cx="219.5" cy="190.0" r="3.58"/><circle cx="222.7" cy="191.9" r="3.58"/><circle cx="223.3" cy="187.2" r="3.58"/><circle cx="234.8" cy="189.7" r="3.58"/><circle cx="243.3" cy="185.9" r="3.58"/><circle cx="241.5" cy="194.3" r="3.58"/><circle cx="251.5" cy="192.8" r="3.58"/><circle cx="266.3" cy="188.7" r="3.58"/><circle cx="274.0" cy="189.0" r="3.58"/><circle cx="280.3" cy="183.8" r="3.58"/><circle cx="277.8" cy="187.2" r="3.58"/><circle cx="281.8" cy="191.2" r="3.58"/><circle cx="277.2" cy="195.1" r="3.58"/><circle cx="289.3" cy="190.3" r="3.58"/><circle cx="296.6" cy="193.4" r="3.58"/><circle cx="267.8" cy="195.9" r="3.58"/><circle cx="208.2" cy="197.6" r="3.58"/><circle cx="206.4" cy="203.2" r="3.58"/><circle cx="230.2" cy="202.8" r="3.58"/><circle cx="222.7" cy="206.6" r="3.58"/><circle cx="247.7" cy="199.1" r="3.58"/><circle cx="251.2" cy="198.8" r="3.58"/><circle cx="256.9" cy="205.1" r="3.58"/><circle cx="263.4" cy="205.1" r="3.58"/><circle cx="269.0" cy="205.1" r="3.58"/><circle cx="170.0" cy="192.8" r="3.58"/><circle cx="291.6" cy="208.5" r="3.58"/><circle cx="309.0" cy="136.4" r="3.58"/><circle cx="322.4" cy="137.0" r="3.58"/><circle cx="326.2" cy="133.9" r="3.58"/><circle cx="336.0" cy="136.0" r="3.58"/><circle cx="345.4" cy="134.3" r="3.58"/><circle cx="351.9" cy="136.8" r="3.58"/><circle cx="373.0" cy="136.4" r="3.58"/><circle cx="370.1" cy="142.7" r="3.58"/><circle cx="376.4" cy="144.5" r="3.58"/><circle cx="374.5" cy="148.3" r="3.58"/><circle cx="383.0" cy="138.3" r="3.58"/><circle cx="388.9" cy="135.1" r="3.58"/><circle cx="395.8" cy="141.4" r="3.58"/><circle cx="405.2" cy="139.3" r="3.58"/><circle cx="413.1" cy="135.1" r="3.58"/><circle cx="409.6" cy="143.3" r="3.58"/><circle cx="413.1" cy="148.0" r="3.58"/><circle cx="413.3" cy="152.1" r="3.58"/><circle cx="420.2" cy="142.0" r="3.58"/><circle cx="424.6" cy="137.6" r="3.58"/><circle cx="425.2" cy="145.8" r="3.58"/><circle cx="424.6" cy="154.6" r="3.58"/><circle cx="304.0" cy="149.3" r="3.58"/><circle cx="320.3" cy="149.6" r="3.58"/><circle cx="326.2" cy="151.8" r="3.58"/><circle cx="332.5" cy="152.1" r="3.58"/><circle cx="341.9" cy="145.8" r="3.58"/><circle cx="339.4" cy="147.7" r="3.58"/><circle cx="350.7" cy="144.5" r="3.58"/><circle cx="350.4" cy="152.7" r="3.58"/><circle cx="359.1" cy="150.8" r="3.58"/><circle cx="364.7" cy="156.8" r="3.58"/><circle cx="381.7" cy="150.2" r="3.58"/><circle cx="382.0" cy="155.2" r="3.58"/><circle cx="381.4" cy="161.5" r="3.58"/><circle cx="373.0" cy="160.2" r="3.58"/><circle cx="299.9" cy="159.6" r="3.58"/><circle cx="313.7" cy="160.2" r="3.58"/><circle cx="316.8" cy="160.6" r="3.58"/><circle cx="335.4" cy="157.7" r="3.58"/><circle cx="350.0" cy="157.7" r="3.58"/><circle cx="353.2" cy="160.8" r="3.58"/><circle cx="358.2" cy="161.5" r="3.58"/><circle cx="306.5" cy="166.5" r="3.58"/><circle cx="316.8" cy="166.5" r="3.58"/><circle cx="319.1" cy="171.5" r="3.58"/><circle cx="335.0" cy="166.9" r="3.58"/><circle cx="338.7" cy="165.8" r="3.58"/><circle cx="352.9" cy="167.4" r="3.58"/><circle cx="373.0" cy="168.4" r="3.58"/><circle cx="372.6" cy="174.6" r="3.58"/><circle cx="369.5" cy="174.0" r="3.58"/><circle cx="389.3" cy="167.7" r="3.58"/><circle cx="400.5" cy="165.8" r="3.58"/><circle cx="398.9" cy="173.6" r="3.58"/><circle cx="388.5" cy="177.8" r="3.58"/><circle cx="409.3" cy="162.5" r="3.58"/><circle cx="416.8" cy="161.7" r="3.58"/><circle cx="423.4" cy="161.5" r="3.58"/><circle cx="420.2" cy="168.4" r="3.58"/><circle cx="424.6" cy="172.1" r="3.58"/><circle cx="353.8" cy="179.0" r="3.58"/><circle cx="338.4" cy="180.5" r="3.58"/><circle cx="328.7" cy="180.3" r="3.58"/><circle cx="324.3" cy="181.5" r="3.58"/><circle cx="322.1" cy="185.7" r="3.58"/><circle cx="328.1" cy="187.8" r="3.58"/><circle cx="317.4" cy="190.3" r="3.58"/><circle cx="306.5" cy="185.7" r="3.58"/><circle cx="309.5" cy="188.4" r="3.58"/><circle cx="298.6" cy="193.2" r="3.58"/><circle cx="330.8" cy="193.7" r="3.58"/><circle cx="324.3" cy="196.9" r="3.58"/><circle cx="326.2" cy="199.7" r="3.58"/><circle cx="313.7" cy="200.7" r="3.58"/><circle cx="340.0" cy="195.7" r="3.58"/><circle cx="343.8" cy="186.5" r="3.58"/><circle cx="350.9" cy="188.8" r="3.58"/><circle cx="365.1" cy="185.7" r="3.58"/><circle cx="369.7" cy="184.0" r="3.58"/><circle cx="375.7" cy="186.5" r="3.58"/><circle cx="401.0" cy="184.0" r="3.58"/><circle cx="408.6" cy="182.1" r="3.58"/><circle cx="407.1" cy="188.2" r="3.58"/><circle cx="403.3" cy="193.1" r="3.58"/><circle cx="409.6" cy="192.8" r="3.58"/><circle cx="416.5" cy="194.1" r="3.58"/><circle cx="421.5" cy="195.7" r="3.58"/><circle cx="420.2" cy="190.9" r="3.58"/><circle cx="425.2" cy="184.0" r="3.58"/><circle cx="389.1" cy="199.7" r="3.58"/><circle cx="384.5" cy="204.5" r="3.58"/><circle cx="393.3" cy="205.3" r="3.58"/><circle cx="363.8" cy="206.0" r="3.58"/><circle cx="341.9" cy="208.5" r="3.58"/><circle cx="368.8" cy="208.5" r="3.58"/><circle cx="436.7" cy="136.8" r="3.58"/><circle cx="443.6" cy="132.6" r="3.58"/><circle cx="450.4" cy="137.1" r="3.58"/><circle cx="446.7" cy="141.4" r="3.58"/><circle cx="451.7" cy="143.3" r="3.58"/><circle cx="427.9" cy="145.8" r="3.58"/><circle cx="435.8" cy="147.0" r="3.58"/><circle cx="449.2" cy="148.3" r="3.58"/><circle cx="443.6" cy="154.6" r="3.58"/><circle cx="426.6" cy="154.6" r="3.58"/><circle cx="454.8" cy="156.4" r="3.58"/><circle cx="460.4" cy="152.1" r="3.58"/><circle cx="461.7" cy="159.0" r="3.58"/><circle cx="465.1" cy="160.4" r="3.58"/><circle cx="435.8" cy="160.8" r="3.58"/><circle cx="439.8" cy="162.1" r="3.58"/><circle cx="432.3" cy="165.8" r="3.58"/><circle cx="445.8" cy="165.8" r="3.58"/><circle cx="459.8" cy="165.2" r="3.58"/><circle cx="463.6" cy="165.8" r="3.58"/><circle cx="468.6" cy="169.0" r="3.58"/><circle cx="470.0" cy="170.1" r="3.58"/><circle cx="466.1" cy="172.1" r="3.58"/><circle cx="459.2" cy="172.7" r="3.58"/><circle cx="427.9" cy="175.9" r="3.58"/><circle cx="453.6" cy="175.9" r="3.58"/><circle cx="436.7" cy="177.8" r="3.58"/><circle cx="437.5" cy="180.9" r="3.58"/><circle cx="454.8" cy="180.9" r="3.58"/><circle cx="465.5" cy="182.1" r="3.58"/><circle cx="471.8" cy="184.0" r="3.58"/><circle cx="476.0" cy="184.7" r="3.58"/><circle cx="429.8" cy="185.9" r="3.58"/><circle cx="442.3" cy="186.5" r="3.58"/><circle cx="448.6" cy="184.9" r="3.58"/><circle cx="456.1" cy="184.7" r="3.58"/><circle cx="461.1" cy="190.3" r="3.58"/><circle cx="439.2" cy="190.7" r="3.58"/><circle cx="447.3" cy="194.1" r="3.58"/><circle cx="456.7" cy="195.3" r="3.58"/><circle cx="468.6" cy="193.4" r="3.58"/><circle cx="474.3" cy="195.3" r="3.58"/><circle cx="478.0" cy="190.9" r="3.58"/><circle cx="479.5" cy="195.0" r="3.58"/><circle cx="432.3" cy="197.2" r="3.58"/><circle cx="465.5" cy="202.2" r="3.58"/><circle cx="474.9" cy="200.3" r="3.58"/><circle cx="481.2" cy="202.2" r="3.58"/><circle cx="471.8" cy="204.7" r="3.58"/><circle cx="473.6" cy="207.8" r="3.58"/><circle cx="481.8" cy="207.8" r="3.58"/><circle cx="434.1" cy="207.8" r="3.58"/><circle cx="428.5" cy="169.6" r="3.58"/><circle cx="116.0" cy="213.4" r="3.58"/><circle cx="121.0" cy="215.3" r="3.58"/><circle cx="109.7" cy="215.3" r="3.58"/><circle cx="132.3" cy="210.9" r="3.58"/><circle cx="134.1" cy="217.1" r="3.58"/><circle cx="144.8" cy="218.8" r="3.58"/><circle cx="160.5" cy="215.3" r="3.58"/><circle cx="162.3" cy="209.6" r="3.58"/><circle cx="152.9" cy="221.9" r="3.58"/><circle cx="160.5" cy="222.2" r="3.58"/><circle cx="163.3" cy="227.2" r="3.58"/><circle cx="135.4" cy="224.0" r="3.58"/><circle cx="142.3" cy="224.7" r="3.58"/><circle cx="147.9" cy="228.4" r="3.58"/><circle cx="114.7" cy="220.3" r="3.58"/><circle cx="122.2" cy="219.0" r="3.58"/><circle cx="109.7" cy="225.3" r="3.58"/><circle cx="116.0" cy="226.6" r="3.58"/><circle cx="121.2" cy="230.1" r="3.58"/><circle cx="106.6" cy="230.3" r="3.58"/><circle cx="111.6" cy="234.1" r="3.58"/><circle cx="105.6" cy="236.0" r="3.58"/><circle cx="114.7" cy="239.7" r="3.58"/><circle cx="108.4" cy="241.0" r="3.58"/><circle cx="105.3" cy="243.5" r="3.58"/><circle cx="124.7" cy="238.5" r="3.58"/><circle cx="132.3" cy="234.7" r="3.58"/><circle cx="137.9" cy="237.8" r="3.58"/><circle cx="144.8" cy="240.3" r="3.58"/><circle cx="127.9" cy="245.4" r="3.58"/><circle cx="131.6" cy="244.1" r="3.58"/><circle cx="140.0" cy="246.6" r="3.58"/><circle cx="121.6" cy="250.4" r="3.58"/><circle cx="117.2" cy="249.1" r="3.58"/><circle cx="127.2" cy="254.8" r="3.58"/><circle cx="135.4" cy="253.5" r="3.58"/><circle cx="139.2" cy="252.9" r="3.58"/><circle cx="146.0" cy="256.0" r="3.58"/><circle cx="154.2" cy="244.7" r="3.58"/><circle cx="159.8" cy="249.1" r="3.58"/><circle cx="163.6" cy="252.2" r="3.58"/><circle cx="154.4" cy="256.0" r="3.58"/><circle cx="168.6" cy="233.4" r="3.58"/><circle cx="110.9" cy="256.6" r="3.58"/><circle cx="117.8" cy="259.1" r="3.58"/><circle cx="105.1" cy="257.9" r="3.58"/><circle cx="105.9" cy="263.5" r="3.58"/><circle cx="111.6" cy="264.8" r="3.58"/><circle cx="119.1" cy="264.8" r="3.58"/><circle cx="123.5" cy="267.9" r="3.58"/><circle cx="112.8" cy="272.3" r="3.58"/><circle cx="117.2" cy="274.2" r="3.58"/><circle cx="107.8" cy="269.2" r="3.58"/><circle cx="139.2" cy="266.7" r="3.58"/><circle cx="142.3" cy="262.3" r="3.58"/><circle cx="135.4" cy="273.6" r="3.58"/><circle cx="142.3" cy="273.6" r="3.58"/><circle cx="152.3" cy="274.2" r="3.58"/><circle cx="155.5" cy="264.2" r="3.58"/><circle cx="159.8" cy="270.2" r="3.58"/><circle cx="168.6" cy="274.8" r="3.58"/><circle cx="159.8" cy="279.2" r="3.58"/><circle cx="124.7" cy="278.6" r="3.58"/><circle cx="132.3" cy="279.8" r="3.58"/><circle cx="111.6" cy="279.8" r="3.58"/><circle cx="107.9" cy="284.2" r="3.58"/><circle cx="114.1" cy="284.2" r="3.58"/><circle cx="119.7" cy="284.8" r="3.58"/><circle cx="141.0" cy="283.0" r="3.58"/><circle cx="147.3" cy="281.7" r="3.58"/><circle cx="167.4" cy="281.1" r="3.58"/><circle cx="169.2" cy="259.1" r="3.58"/><circle cx="173.8" cy="215.5" r="3.58"/><circle cx="180.7" cy="225.0" r="3.58"/><circle cx="188.6" cy="226.6" r="3.58"/><circle cx="195.1" cy="218.4" r="3.58"/><circle cx="195.7" cy="221.9" r="3.58"/><circle cx="202.0" cy="222.2" r="3.58"/><circle cx="201.1" cy="230.9" r="3.58"/><circle cx="170.6" cy="233.4" r="3.58"/><circle cx="180.7" cy="238.5" r="3.58"/><circle cx="199.8" cy="237.2" r="3.58"/><circle cx="205.5" cy="239.7" r="3.58"/><circle cx="217.6" cy="236.6" r="3.58"/><circle cx="223.0" cy="231.8" r="3.58"/><circle cx="233.3" cy="217.1" r="3.58"/><circle cx="238.9" cy="220.3" r="3.58"/><circle cx="244.0" cy="215.5" r="3.58"/><circle cx="246.5" cy="214.0" r="3.58"/><circle cx="255.9" cy="216.8" r="3.58"/><circle cx="261.8" cy="213.0" r="3.58"/><circle cx="248.7" cy="223.8" r="3.58"/><circle cx="250.2" cy="227.2" r="3.58"/><circle cx="249.2" cy="232.2" r="3.58"/><circle cx="256.5" cy="228.4" r="3.58"/><circle cx="260.3" cy="227.2" r="3.58"/><circle cx="264.9" cy="228.4" r="3.58"/><circle cx="270.9" cy="227.8" r="3.58"/><circle cx="271.3" cy="222.5" r="3.58"/><circle cx="278.8" cy="225.9" r="3.58"/><circle cx="282.2" cy="218.0" r="3.58"/><circle cx="289.1" cy="228.8" r="3.58"/><circle cx="291.0" cy="211.5" r="3.58"/><circle cx="296.0" cy="212.1" r="3.58"/><circle cx="297.2" cy="218.4" r="3.58"/><circle cx="297.2" cy="231.6" r="3.58"/><circle cx="240.8" cy="238.8" r="3.58"/><circle cx="255.5" cy="236.8" r="3.58"/><circle cx="262.8" cy="240.3" r="3.58"/><circle cx="267.8" cy="236.8" r="3.58"/><circle cx="269.7" cy="240.3" r="3.58"/><circle cx="267.5" cy="246.6" r="3.58"/><circle cx="188.8" cy="246.0" r="3.58"/><circle cx="193.8" cy="246.6" r="3.58"/><circle cx="183.5" cy="249.7" r="3.58"/><circle cx="186.3" cy="252.9" r="3.58"/><circle cx="183.5" cy="256.6" r="3.58"/><circle cx="177.5" cy="258.5" r="3.58"/><circle cx="174.4" cy="262.3" r="3.58"/><circle cx="186.0" cy="261.0" r="3.58"/><circle cx="171.3" cy="258.5" r="3.58"/><circle cx="200.1" cy="256.0" r="3.58"/><circle cx="197.0" cy="254.1" r="3.58"/><circle cx="210.1" cy="251.0" r="3.58"/><circle cx="206.4" cy="249.7" r="3.58"/><circle cx="214.5" cy="261.0" r="3.58"/><circle cx="214.5" cy="266.0" r="3.58"/><circle cx="219.9" cy="267.7" r="3.58"/><circle cx="206.4" cy="267.7" r="3.58"/><circle cx="244.0" cy="252.9" r="3.58"/><circle cx="254.6" cy="251.4" r="3.58"/><circle cx="242.7" cy="258.1" r="3.58"/><circle cx="246.1" cy="260.8" r="3.58"/><circle cx="274.7" cy="252.2" r="3.58"/><circle cx="280.3" cy="249.7" r="3.58"/><circle cx="279.3" cy="256.4" r="3.58"/><circle cx="291.9" cy="249.1" r="3.58"/><circle cx="288.5" cy="244.7" r="3.58"/><circle cx="176.3" cy="274.8" r="3.58"/><circle cx="191.9" cy="276.4" r="3.58"/><circle cx="206.0" cy="275.2" r="3.58"/><circle cx="184.4" cy="282.3" r="3.58"/><circle cx="170.6" cy="280.5" r="3.58"/><circle cx="228.0" cy="279.2" r="3.58"/><circle cx="236.2" cy="283.6" r="3.58"/><circle cx="245.8" cy="281.7" r="3.58"/><circle cx="251.5" cy="275.4" r="3.58"/><circle cx="257.8" cy="276.7" r="3.58"/><circle cx="273.8" cy="278.6" r="3.58"/><circle cx="293.5" cy="281.5" r="3.58"/><circle cx="222.7" cy="209.0" r="3.58"/><circle cx="309.5" cy="220.9" r="3.58"/><circle cx="315.8" cy="215.5" r="3.58"/><circle cx="322.4" cy="215.9" r="3.58"/><circle cx="321.8" cy="221.5" r="3.58"/><circle cx="328.7" cy="224.7" r="3.58"/><circle cx="325.6" cy="232.8" r="3.58"/><circle cx="336.2" cy="217.5" r="3.58"/><circle cx="336.9" cy="224.0" r="3.58"/><circle cx="346.9" cy="220.5" r="3.58"/><circle cx="355.0" cy="210.9" r="3.58"/><circle cx="365.1" cy="210.9" r="3.58"/><circle cx="359.4" cy="217.8" r="3.58"/><circle cx="353.8" cy="220.9" r="3.58"/><circle cx="354.4" cy="224.3" r="3.58"/><circle cx="378.9" cy="213.8" r="3.58"/><circle cx="390.1" cy="210.9" r="3.58"/><circle cx="400.8" cy="212.8" r="3.58"/><circle cx="412.3" cy="211.8" r="3.58"/><circle cx="423.4" cy="213.4" r="3.58"/><circle cx="425.2" cy="218.4" r="3.58"/><circle cx="330.0" cy="239.1" r="3.58"/><circle cx="333.1" cy="240.6" r="3.58"/><circle cx="344.1" cy="241.0" r="3.58"/><circle cx="347.5" cy="237.2" r="3.58"/><circle cx="355.3" cy="236.6" r="3.58"/><circle cx="365.4" cy="234.1" r="3.58"/><circle cx="364.7" cy="243.5" r="3.58"/><circle cx="355.3" cy="248.5" r="3.58"/><circle cx="381.4" cy="228.4" r="3.58"/><circle cx="388.3" cy="227.2" r="3.58"/><circle cx="388.9" cy="230.9" r="3.58"/><circle cx="380.4" cy="236.0" r="3.58"/><circle cx="388.3" cy="236.6" r="3.58"/><circle cx="395.8" cy="230.3" r="3.58"/><circle cx="400.2" cy="228.8" r="3.58"/><circle cx="409.6" cy="229.1" r="3.58"/><circle cx="413.3" cy="227.8" r="3.58"/><circle cx="404.3" cy="236.3" r="3.58"/><circle cx="397.0" cy="239.1" r="3.58"/><circle cx="403.3" cy="240.3" r="3.58"/><circle cx="415.2" cy="241.8" r="3.58"/><circle cx="409.9" cy="246.4" r="3.58"/><circle cx="422.7" cy="248.9" r="3.58"/><circle cx="376.0" cy="246.2" r="3.58"/><circle cx="372.2" cy="247.9" r="3.58"/><circle cx="367.6" cy="252.0" r="3.58"/><circle cx="360.3" cy="255.0" r="3.58"/><circle cx="373.6" cy="256.6" r="3.58"/><circle cx="388.5" cy="249.7" r="3.58"/><circle cx="394.8" cy="249.7" r="3.58"/><circle cx="383.9" cy="256.6" r="3.58"/><circle cx="390.8" cy="257.5" r="3.58"/><circle cx="408.6" cy="254.4" r="3.58"/><circle cx="411.2" cy="259.8" r="3.58"/><circle cx="402.3" cy="260.1" r="3.58"/><circle cx="423.4" cy="257.9" r="3.58"/><circle cx="425.2" cy="261.7" r="3.58"/><circle cx="315.3" cy="247.6" r="3.58"/><circle cx="302.0" cy="252.2" r="3.58"/><circle cx="302.4" cy="249.1" r="3.58"/><circle cx="316.2" cy="259.5" r="3.58"/><circle cx="332.1" cy="258.3" r="3.58"/><circle cx="333.1" cy="264.2" r="3.58"/><circle cx="342.9" cy="267.0" r="3.58"/><circle cx="343.1" cy="274.2" r="3.58"/><circle cx="356.7" cy="266.9" r="3.58"/><circle cx="368.5" cy="269.8" r="3.58"/><circle cx="368.8" cy="275.2" r="3.58"/><circle cx="384.5" cy="270.4" r="3.58"/><circle cx="403.6" cy="276.4" r="3.58"/><circle cx="310.2" cy="269.8" r="3.58"/><circle cx="313.0" cy="271.1" r="3.58"/><circle cx="323.1" cy="270.4" r="3.58"/><circle cx="323.4" cy="277.7" r="3.58"/><circle cx="317.4" cy="281.1" r="3.58"/><circle cx="302.4" cy="279.8" r="3.58"/><circle cx="304.3" cy="284.2" r="3.58"/><circle cx="313.7" cy="283.6" r="3.58"/><circle cx="326.2" cy="283.6" r="3.58"/><circle cx="348.8" cy="280.7" r="3.58"/><circle cx="333.1" cy="285.5" r="3.58"/><circle cx="410.2" cy="283.0" r="3.58"/><circle cx="422.7" cy="283.6" r="3.58"/><circle cx="380.7" cy="285.5" r="3.58"/><circle cx="397.7" cy="285.5" r="3.58"/><circle cx="434.1" cy="210.5" r="3.58"/><circle cx="436.0" cy="214.6" r="3.58"/><circle cx="427.3" cy="217.1" r="3.58"/><circle cx="432.5" cy="220.9" r="3.58"/><circle cx="450.4" cy="211.5" r="3.58"/><circle cx="448.6" cy="216.3" r="3.58"/><circle cx="442.9" cy="223.8" r="3.58"/><circle cx="453.0" cy="222.8" r="3.58"/><circle cx="437.0" cy="229.4" r="3.58"/><circle cx="434.8" cy="234.7" r="3.58"/><circle cx="451.1" cy="230.3" r="3.58"/><circle cx="446.7" cy="234.1" r="3.58"/><circle cx="466.1" cy="218.0" r="3.58"/><circle cx="465.5" cy="224.7" r="3.58"/><circle cx="475.1" cy="221.5" r="3.58"/><circle cx="473.4" cy="210.0" r="3.58"/><circle cx="469.2" cy="229.1" r="3.58"/><circle cx="472.6" cy="232.6" r="3.58"/><circle cx="460.9" cy="233.1" r="3.58"/><circle cx="457.3" cy="237.2" r="3.58"/><circle cx="453.3" cy="241.8" r="3.58"/><circle cx="463.2" cy="243.1" r="3.58"/><circle cx="469.9" cy="245.4" r="3.58"/><circle cx="466.1" cy="248.5" r="3.58"/><circle cx="473.4" cy="249.1" r="3.58"/><circle cx="455.7" cy="250.1" r="3.58"/><circle cx="442.0" cy="246.2" r="3.58"/><circle cx="440.8" cy="252.2" r="3.58"/><circle cx="437.0" cy="257.9" r="3.58"/><circle cx="442.3" cy="257.3" r="3.58"/><circle cx="440.8" cy="263.2" r="3.58"/><circle cx="437.3" cy="267.9" r="3.58"/><circle cx="439.2" cy="272.3" r="3.58"/><circle cx="442.3" cy="277.3" r="3.58"/><circle cx="429.8" cy="276.1" r="3.58"/><circle cx="429.1" cy="283.0" r="3.58"/><circle cx="427.3" cy="261.7" r="3.58"/><circle cx="430.4" cy="266.0" r="3.58"/><circle cx="444.2" cy="284.8" r="3.58"/><circle cx="452.6" cy="268.9" r="3.58"/><circle cx="458.6" cy="273.6" r="3.58"/><circle cx="463.2" cy="269.8" r="3.58"/><circle cx="465.1" cy="279.8" r="3.58"/><circle cx="460.9" cy="260.1" r="3.58"/><circle cx="467.1" cy="262.9" r="3.58"/><circle cx="471.8" cy="255.1" r="3.58"/><circle cx="476.8" cy="265.4" r="3.58"/><circle cx="473.0" cy="270.4" r="3.58"/><circle cx="480.2" cy="270.8" r="3.58"/><circle cx="476.1" cy="274.2" r="3.58"/><circle cx="471.1" cy="284.2" r="3.58"/><circle cx="479.9" cy="284.2" r="3.58"/><circle cx="482.8" cy="279.2" r="3.58"/><circle cx="486.2" cy="275.4" r="3.58"/><circle cx="481.2" cy="237.8" r="3.58"/><circle cx="479.3" cy="247.9" r="3.58"/><circle cx="479.9" cy="256.0" r="3.58"/><circle cx="483.7" cy="256.6" r="3.58"/><circle cx="483.9" cy="225.9" r="3.58"/><circle cx="481.8" cy="229.7" r="3.58"/><circle cx="484.9" cy="217.8" r="3.58"/><circle cx="482.4" cy="215.3" r="3.58"/><circle cx="483.7" cy="211.1" r="3.58"/><circle cx="486.7" cy="230.3" r="3.58"/><circle cx="487.7" cy="242.9" r="3.58"/><circle cx="486.2" cy="246.6" r="3.58"/><circle cx="486.8" cy="251.6" r="3.58"/><circle cx="487.7" cy="257.2" r="3.58"/><circle cx="487.4" cy="264.1" r="3.58"/><circle cx="484.3" cy="264.8" r="3.58"/><circle cx="484.7" cy="285.2" r="3.58"/><circle cx="108.7" cy="288.3" r="3.58"/><circle cx="114.1" cy="286.6" r="3.58"/><circle cx="125.4" cy="287.9" r="3.58"/><circle cx="111.6" cy="294.1" r="3.58"/><circle cx="117.2" cy="297.9" r="3.58"/><circle cx="111.9" cy="301.9" r="3.58"/><circle cx="133.3" cy="297.9" r="3.58"/><circle cx="128.5" cy="303.9" r="3.58"/><circle cx="135.4" cy="303.9" r="3.58"/><circle cx="141.7" cy="305.1" r="3.58"/><circle cx="141.0" cy="290.8" r="3.58"/><circle cx="145.0" cy="294.5" r="3.58"/><circle cx="148.6" cy="287.9" r="3.58"/><circle cx="156.7" cy="289.5" r="3.58"/><circle cx="163.3" cy="291.0" r="3.58"/><circle cx="154.8" cy="295.4" r="3.58"/><circle cx="149.8" cy="299.2" r="3.58"/><circle cx="150.4" cy="306.3" r="3.58"/><circle cx="156.3" cy="305.4" r="3.58"/><circle cx="163.9" cy="307.1" r="3.58"/><circle cx="168.6" cy="292.9" r="3.58"/><circle cx="169.2" cy="306.1" r="3.58"/><circle cx="163.3" cy="316.7" r="3.58"/><circle cx="169.2" cy="314.2" r="3.58"/><circle cx="117.2" cy="311.7" r="3.58"/><circle cx="123.5" cy="313.8" r="3.58"/><circle cx="118.7" cy="320.5" r="3.58"/><circle cx="129.8" cy="313.6" r="3.58"/><circle cx="134.8" cy="316.7" r="3.58"/><circle cx="127.9" cy="323.0" r="3.58"/><circle cx="135.4" cy="321.7" r="3.58"/><circle cx="141.0" cy="324.2" r="3.58"/><circle cx="146.3" cy="321.1" r="3.58"/><circle cx="147.9" cy="326.7" r="3.58"/><circle cx="152.9" cy="323.6" r="3.58"/><circle cx="155.5" cy="327.4" r="3.58"/><circle cx="127.0" cy="329.2" r="3.58"/><circle cx="137.3" cy="330.3" r="3.58"/><circle cx="123.4" cy="332.7" r="3.58"/><circle cx="129.8" cy="336.8" r="3.58"/><circle cx="136.6" cy="335.5" r="3.58"/><circle cx="141.7" cy="339.3" r="3.58"/><circle cx="147.6" cy="333.4" r="3.58"/><circle cx="149.8" cy="340.2" r="3.58"/><circle cx="126.1" cy="338.2" r="3.58"/><circle cx="128.9" cy="343.4" r="3.58"/><circle cx="136.6" cy="344.3" r="3.58"/><circle cx="142.3" cy="348.1" r="3.58"/><circle cx="147.3" cy="345.5" r="3.58"/><circle cx="133.0" cy="350.5" r="3.58"/><circle cx="146.7" cy="352.8" r="3.58"/><circle cx="138.5" cy="358.1" r="3.58"/><circle cx="144.8" cy="361.2" r="3.58"/><circle cx="149.2" cy="361.2" r="3.58"/><circle cx="163.0" cy="354.3" r="3.58"/><circle cx="162.3" cy="346.2" r="3.58"/><circle cx="166.1" cy="348.1" r="3.58"/><circle cx="158.0" cy="361.2" r="3.58"/><circle cx="169.2" cy="334.3" r="3.58"/><circle cx="169.2" cy="361.2" r="3.58"/><circle cx="170.6" cy="292.3" r="3.58"/><circle cx="171.3" cy="299.2" r="3.58"/><circle cx="172.3" cy="306.7" r="3.58"/><circle cx="177.3" cy="311.7" r="3.58"/><circle cx="179.0" cy="289.8" r="3.58"/><circle cx="182.3" cy="290.4" r="3.58"/><circle cx="187.3" cy="291.6" r="3.58"/><circle cx="202.0" cy="295.0" r="3.58"/><circle cx="208.0" cy="296.7" r="3.58"/><circle cx="195.7" cy="302.0" r="3.58"/><circle cx="197.8" cy="304.2" r="3.58"/><circle cx="216.6" cy="299.5" r="3.58"/><circle cx="203.6" cy="309.6" r="3.58"/><circle cx="213.2" cy="307.9" r="3.58"/><circle cx="214.5" cy="312.6" r="3.58"/><circle cx="207.4" cy="315.8" r="3.58"/><circle cx="235.8" cy="286.6" r="3.58"/><circle cx="235.2" cy="294.5" r="3.58"/><circle cx="237.7" cy="297.0" r="3.58"/><circle cx="245.5" cy="292.9" r="3.58"/><circle cx="245.8" cy="302.3" r="3.58"/><circle cx="240.8" cy="306.1" r="3.58"/><circle cx="239.3" cy="311.1" r="3.58"/><circle cx="246.7" cy="310.1" r="3.58"/><circle cx="249.6" cy="315.5" r="3.58"/><circle cx="253.4" cy="317.6" r="3.58"/><circle cx="230.5" cy="312.3" r="3.58"/><circle cx="227.9" cy="315.8" r="3.58"/><circle cx="261.3" cy="289.1" r="3.58"/><circle cx="268.8" cy="290.8" r="3.58"/><circle cx="274.7" cy="299.5" r="3.58"/><circle cx="284.7" cy="298.3" r="3.58"/><circle cx="279.7" cy="306.7" r="3.58"/><circle cx="275.3" cy="309.8" r="3.58"/><circle cx="295.4" cy="307.3" r="3.58"/><circle cx="294.7" cy="311.7" r="3.58"/><circle cx="297.2" cy="315.5" r="3.58"/><circle cx="223.0" cy="324.6" r="3.58"/><circle cx="231.8" cy="324.2" r="3.58"/><circle cx="231.2" cy="328.6" r="3.58"/><circle cx="238.7" cy="329.9" r="3.58"/><circle cx="244.8" cy="329.9" r="3.58"/><circle cx="252.1" cy="327.1" r="3.58"/><circle cx="249.6" cy="328.0" r="3.58"/><circle cx="238.1" cy="334.3" r="3.58"/><circle cx="227.0" cy="336.4" r="3.58"/><circle cx="246.7" cy="337.4" r="3.58"/><circle cx="253.4" cy="339.9" r="3.58"/><circle cx="261.5" cy="336.8" r="3.58"/><circle cx="259.6" cy="342.4" r="3.58"/><circle cx="265.5" cy="345.5" r="3.58"/><circle cx="255.9" cy="346.8" r="3.58"/><circle cx="231.1" cy="343.0" r="3.58"/><circle cx="238.6" cy="345.3" r="3.58"/><circle cx="214.1" cy="338.7" r="3.58"/><circle cx="213.2" cy="341.2" r="3.58"/><circle cx="201.3" cy="330.3" r="3.58"/><circle cx="187.6" cy="329.0" r="3.58"/><circle cx="190.7" cy="326.1" r="3.58"/><circle cx="193.2" cy="330.5" r="3.58"/><circle cx="192.3" cy="337.0" r="3.58"/><circle cx="179.4" cy="328.6" r="3.58"/><circle cx="175.0" cy="334.3" r="3.58"/><circle cx="177.5" cy="336.1" r="3.58"/><circle cx="180.0" cy="332.4" r="3.58"/><circle cx="171.3" cy="339.3" r="3.58"/><circle cx="179.0" cy="341.8" r="3.58"/><circle cx="284.7" cy="322.1" r="3.58"/><circle cx="289.1" cy="326.1" r="3.58"/><circle cx="291.0" cy="323.6" r="3.58"/><circle cx="278.8" cy="327.1" r="3.58"/><circle cx="274.0" cy="328.0" r="3.58"/><circle cx="269.7" cy="329.2" r="3.58"/><circle cx="293.9" cy="335.9" r="3.58"/><circle cx="279.1" cy="343.0" r="3.58"/><circle cx="282.8" cy="343.7" r="3.58"/><circle cx="276.8" cy="348.7" r="3.58"/><circle cx="283.7" cy="351.4" r="3.58"/><circle cx="290.0" cy="347.1" r="3.58"/><circle cx="293.1" cy="351.8" r="3.58"/><circle cx="279.4" cy="356.0" r="3.58"/><circle cx="292.2" cy="360.6" r="3.58"/><circle cx="297.2" cy="358.7" r="3.58"/><circle cx="172.3" cy="349.9" r="3.58"/><circle cx="178.8" cy="349.3" r="3.58"/><circle cx="178.8" cy="354.3" r="3.58"/><circle cx="184.8" cy="356.2" r="3.58"/><circle cx="183.2" cy="361.2" r="3.58"/><circle cx="200.7" cy="346.5" r="3.58"/><circle cx="206.7" cy="348.7" r="3.58"/><circle cx="200.5" cy="358.5" r="3.58"/><circle cx="213.2" cy="356.2" r="3.58"/><circle cx="223.7" cy="359.1" r="3.58"/><circle cx="236.1" cy="359.7" r="3.58"/><circle cx="242.7" cy="356.0" r="3.58"/><circle cx="220.1" cy="362.5" r="3.58"/><circle cx="252.1" cy="362.5" r="3.58"/><circle cx="313.7" cy="286.0" r="3.58"/><circle cx="326.2" cy="286.0" r="3.58"/><circle cx="346.9" cy="288.8" r="3.58"/><circle cx="366.3" cy="292.9" r="3.58"/><circle cx="371.3" cy="289.1" r="3.58"/><circle cx="380.7" cy="287.9" r="3.58"/><circle cx="397.7" cy="287.9" r="3.58"/><circle cx="404.8" cy="291.0" r="3.58"/><circle cx="413.1" cy="291.0" r="3.58"/><circle cx="410.2" cy="286.0" r="3.58"/><circle cx="423.4" cy="286.0" r="3.58"/><circle cx="421.5" cy="295.8" r="3.58"/><circle cx="413.6" cy="298.5" r="3.58"/><circle cx="413.3" cy="306.7" r="3.58"/><circle cx="420.2" cy="304.2" r="3.58"/><circle cx="424.0" cy="307.9" r="3.58"/><circle cx="424.6" cy="316.7" r="3.58"/><circle cx="373.0" cy="299.5" r="3.58"/><circle cx="320.2" cy="304.2" r="3.58"/><circle cx="332.2" cy="307.1" r="3.58"/><circle cx="344.1" cy="301.7" r="3.58"/><circle cx="353.5" cy="303.3" r="3.58"/><circle cx="365.3" cy="307.9" r="3.58"/><circle cx="339.7" cy="310.4" r="3.58"/><circle cx="340.9" cy="314.8" r="3.58"/><circle cx="341.2" cy="318.0" r="3.58"/><circle cx="334.6" cy="316.7" r="3.58"/><circle cx="334.4" cy="323.6" r="3.58"/><circle cx="333.1" cy="329.9" r="3.58"/><circle cx="333.7" cy="335.9" r="3.58"/><circle cx="303.0" cy="311.7" r="3.58"/><circle cx="308.0" cy="315.1" r="3.58"/><circle cx="312.4" cy="313.0" r="3.58"/><circle cx="311.2" cy="316.7" r="3.58"/><circle cx="314.3" cy="324.9" r="3.58"/><circle cx="307.0" cy="328.0" r="3.58"/><circle cx="317.1" cy="331.4" r="3.58"/><circle cx="324.3" cy="328.0" r="3.58"/><circle cx="361.6" cy="318.8" r="3.58"/><circle cx="371.1" cy="318.8" r="3.58"/><circle cx="380.1" cy="317.3" r="3.58"/><circle cx="386.4" cy="313.8" r="3.58"/><circle cx="390.1" cy="318.8" r="3.58"/><circle cx="387.6" cy="323.6" r="3.58"/><circle cx="385.8" cy="324.2" r="3.58"/><circle cx="392.9" cy="303.3" r="3.58"/><circle cx="399.8" cy="306.3" r="3.58"/><circle cx="395.2" cy="309.8" r="3.58"/><circle cx="394.5" cy="313.3" r="3.58"/><circle cx="400.8" cy="316.1" r="3.58"/><circle cx="358.8" cy="325.9" r="3.58"/><circle cx="356.3" cy="329.2" r="3.58"/><circle cx="361.3" cy="330.5" r="3.58"/><circle cx="365.7" cy="333.4" r="3.58"/><circle cx="373.2" cy="331.8" r="3.58"/><circle cx="376.7" cy="328.0" r="3.58"/><circle cx="372.0" cy="336.1" r="3.58"/><circle cx="388.0" cy="335.1" r="3.58"/><circle cx="409.6" cy="332.8" r="3.58"/><circle cx="303.0" cy="340.8" r="3.58"/><circle cx="312.8" cy="343.9" r="3.58"/><circle cx="318.1" cy="343.7" r="3.58"/><circle cx="319.6" cy="350.9" r="3.58"/><circle cx="328.1" cy="345.3" r="3.58"/><circle cx="343.1" cy="342.0" r="3.58"/><circle cx="353.8" cy="348.7" r="3.58"/><circle cx="366.9" cy="343.7" r="3.58"/><circle cx="364.4" cy="349.7" r="3.58"/><circle cx="374.7" cy="350.2" r="3.58"/><circle cx="381.7" cy="348.9" r="3.58"/><circle cx="395.8" cy="343.9" r="3.58"/><circle cx="398.3" cy="346.5" r="3.58"/><circle cx="403.6" cy="348.3" r="3.58"/><circle cx="394.8" cy="352.2" r="3.58"/><circle cx="311.5" cy="354.9" r="3.58"/><circle cx="309.5" cy="357.5" r="3.58"/><circle cx="299.3" cy="359.3" r="3.58"/><circle cx="343.8" cy="358.5" r="3.58"/><circle cx="330.0" cy="361.2" r="3.58"/><circle cx="366.9" cy="360.6" r="3.58"/><circle cx="370.7" cy="361.2" r="3.58"/><circle cx="384.5" cy="357.5" r="3.58"/><circle cx="390.1" cy="360.2" r="3.58"/><circle cx="417.1" cy="358.7" r="3.58"/><circle cx="423.4" cy="354.3" r="3.58"/><circle cx="424.0" cy="360.6" r="3.58"/><circle cx="356.9" cy="362.5" r="3.58"/><circle cx="469.9" cy="288.5" r="3.58"/><circle cx="479.3" cy="286.6" r="3.58"/><circle cx="484.2" cy="287.7" r="3.58"/><circle cx="430.4" cy="294.8" r="3.58"/><circle cx="438.3" cy="294.5" r="3.58"/><circle cx="434.8" cy="299.5" r="3.58"/><circle cx="443.6" cy="297.9" r="3.58"/><circle cx="449.4" cy="298.5" r="3.58"/><circle cx="449.4" cy="304.8" r="3.58"/><circle cx="448.6" cy="309.2" r="3.58"/><circle cx="456.7" cy="306.7" r="3.58"/><circle cx="462.4" cy="299.5" r="3.58"/><circle cx="469.2" cy="297.3" r="3.58"/><circle cx="475.5" cy="296.0" r="3.58"/><circle cx="473.0" cy="302.9" r="3.58"/><circle cx="465.1" cy="306.1" r="3.58"/><circle cx="463.0" cy="308.6" r="3.58"/><circle cx="481.8" cy="298.4" r="3.58"/><circle cx="480.5" cy="303.4" r="3.58"/><circle cx="474.9" cy="309.2" r="3.58"/><circle cx="479.2" cy="307.7" r="3.58"/><circle cx="467.4" cy="313.0" r="3.58"/><circle cx="469.9" cy="317.3" r="3.58"/><circle cx="475.1" cy="319.4" r="3.58"/><circle cx="466.1" cy="321.7" r="3.58"/><circle cx="433.8" cy="312.7" r="3.58"/><circle cx="437.9" cy="318.0" r="3.58"/><circle cx="426.6" cy="317.3" r="3.58"/><circle cx="446.1" cy="318.0" r="3.58"/><circle cx="451.7" cy="316.7" r="3.58"/><circle cx="449.8" cy="323.0" r="3.58"/><circle cx="446.1" cy="326.7" r="3.58"/><circle cx="457.6" cy="323.4" r="3.58"/><circle cx="461.1" cy="328.6" r="3.58"/><circle cx="472.5" cy="325.9" r="3.58"/><circle cx="470.5" cy="329.9" r="3.58"/><circle cx="456.1" cy="333.0" r="3.58"/><circle cx="464.2" cy="338.7" r="3.58"/><circle cx="463.6" cy="343.0" r="3.58"/><circle cx="467.5" cy="336.5" r="3.58"/><circle cx="449.8" cy="340.2" r="3.58"/><circle cx="455.5" cy="342.2" r="3.58"/><circle cx="439.2" cy="340.5" r="3.58"/><circle cx="438.8" cy="344.7" r="3.58"/><circle cx="432.0" cy="344.7" r="3.58"/><circle cx="456.1" cy="347.4" r="3.58"/><circle cx="449.8" cy="348.7" r="3.58"/><circle cx="443.6" cy="351.2" r="3.58"/><circle cx="439.8" cy="351.8" r="3.58"/><circle cx="430.8" cy="351.4" r="3.58"/><circle cx="429.1" cy="356.8" r="3.58"/><circle cx="436.7" cy="360.0" r="3.58"/><circle cx="453.6" cy="354.9" r="3.58"/><circle cx="449.8" cy="360.0" r="3.58"/><circle cx="446.7" cy="356.8" r="3.58"/><circle cx="461.5" cy="347.6" r="3.58"/><circle cx="456.5" cy="355.7" r="3.58"/><circle cx="426.0" cy="307.9" r="3.58"/><circle cx="143.6" cy="364.3" r="3.58"/><circle cx="148.6" cy="363.6" r="3.58"/><circle cx="158.0" cy="363.6" r="3.58"/><circle cx="168.7" cy="363.6" r="3.58"/><circle cx="151.1" cy="370.3" r="3.58"/><circle cx="159.3" cy="371.5" r="3.58"/><circle cx="163.7" cy="368.6" r="3.58"/><circle cx="166.8" cy="371.1" r="3.58"/><circle cx="157.4" cy="378.0" r="3.58"/><circle cx="165.8" cy="378.0" r="3.58"/><circle cx="153.6" cy="378.2" r="3.58"/><circle cx="181.2" cy="366.8" r="3.58"/><circle cx="187.7" cy="374.9" r="3.58"/><circle cx="200.6" cy="372.0" r="3.58"/><circle cx="196.0" cy="375.5" r="3.58"/><circle cx="208.8" cy="372.4" r="3.58"/><circle cx="214.8" cy="370.5" r="3.58"/><circle cx="220.1" cy="364.9" r="3.58"/><circle cx="221.3" cy="369.9" r="3.58"/><circle cx="206.3" cy="377.4" r="3.58"/><circle cx="209.8" cy="378.7" r="3.58"/><circle cx="212.8" cy="383.1" r="3.58"/><circle cx="196.9" cy="380.3" r="3.58"/><circle cx="190.6" cy="386.6" r="3.58"/><circle cx="199.4" cy="386.6" r="3.58"/><circle cx="203.5" cy="388.7" r="3.58"/><circle cx="210.0" cy="390.8" r="3.58"/><circle cx="198.8" cy="395.3" r="3.58"/><circle cx="196.3" cy="393.7" r="3.58"/><circle cx="170.6" cy="383.7" r="3.58"/><circle cx="175.2" cy="386.2" r="3.58"/><circle cx="163.0" cy="386.8" r="3.58"/><circle cx="159.3" cy="384.3" r="3.58"/><circle cx="169.5" cy="394.1" r="3.58"/><circle cx="178.1" cy="394.1" r="3.58"/><circle cx="174.7" cy="398.1" r="3.58"/><circle cx="188.4" cy="400.0" r="3.58"/><circle cx="181.8" cy="403.7" r="3.58"/><circle cx="201.9" cy="401.6" r="3.58"/><circle cx="208.4" cy="404.1" r="3.58"/><circle cx="195.3" cy="404.4" r="3.58"/><circle cx="198.8" cy="407.5" r="3.58"/><circle cx="205.0" cy="413.8" r="3.58"/><circle cx="210.7" cy="410.6" r="3.58"/><circle cx="214.1" cy="411.9" r="3.58"/><circle cx="187.7" cy="408.4" r="3.58"/><circle cx="191.5" cy="410.9" r="3.58"/><circle cx="198.4" cy="415.2" r="3.58"/><circle cx="202.8" cy="417.7" r="3.58"/><circle cx="210.0" cy="420.0" r="3.58"/><circle cx="212.6" cy="421.9" r="3.58"/><circle cx="219.5" cy="423.2" r="3.58"/><circle cx="225.1" cy="425.1" r="3.58"/><circle cx="232.0" cy="426.3" r="3.58"/><circle cx="228.9" cy="420.0" r="3.58"/><circle cx="221.3" cy="416.3" r="3.58"/><circle cx="225.1" cy="410.6" r="3.58"/><circle cx="230.1" cy="403.7" r="3.58"/><circle cx="233.2" cy="395.6" r="3.58"/><circle cx="225.1" cy="392.8" r="3.58"/><circle cx="227.9" cy="388.7" r="3.58"/><circle cx="217.9" cy="394.3" r="3.58"/><circle cx="215.1" cy="398.7" r="3.58"/><circle cx="232.6" cy="431.3" r="3.58"/><circle cx="242.1" cy="371.1" r="3.58"/><circle cx="271.6" cy="365.5" r="3.58"/><circle cx="254.1" cy="376.5" r="3.58"/><circle cx="268.5" cy="373.0" r="3.58"/><circle cx="277.9" cy="373.7" r="3.58"/><circle cx="272.9" cy="376.8" r="3.58"/><circle cx="266.3" cy="380.3" r="3.58"/><circle cx="273.5" cy="383.1" r="3.58"/><circle cx="268.9" cy="387.1" r="3.58"/><circle cx="261.8" cy="389.6" r="3.58"/><circle cx="247.5" cy="384.9" r="3.58"/><circle cx="251.6" cy="387.1" r="3.58"/><circle cx="257.8" cy="387.4" r="3.58"/><circle cx="237.1" cy="387.8" r="3.58"/><circle cx="243.0" cy="393.7" r="3.58"/><circle cx="249.0" cy="394.6" r="3.58"/><circle cx="254.1" cy="394.6" r="3.58"/><circle cx="256.6" cy="396.6" r="3.58"/><circle cx="238.8" cy="399.4" r="3.58"/><circle cx="245.5" cy="401.6" r="3.58"/><circle cx="236.5" cy="404.4" r="3.58"/><circle cx="292.3" cy="363.0" r="3.58"/><circle cx="291.9" cy="374.5" r="3.58"/><circle cx="287.9" cy="377.8" r="3.58"/><circle cx="298.6" cy="377.4" r="3.58"/><circle cx="287.9" cy="391.2" r="3.58"/><circle cx="274.7" cy="397.5" r="3.58"/><circle cx="284.4" cy="399.7" r="3.58"/><circle cx="299.2" cy="396.6" r="3.58"/><circle cx="304.2" cy="399.4" r="3.58"/><circle cx="306.5" cy="383.1" r="3.58"/><circle cx="309.8" cy="387.8" r="3.58"/><circle cx="316.7" cy="390.8" r="3.58"/><circle cx="323.6" cy="393.1" r="3.58"/><circle cx="320.2" cy="396.6" r="3.58"/><circle cx="325.3" cy="384.1" r="3.58"/><circle cx="332.4" cy="383.7" r="3.58"/><circle cx="312.4" cy="368.6" r="3.58"/><circle cx="322.4" cy="366.1" r="3.58"/><circle cx="329.9" cy="363.6" r="3.58"/><circle cx="337.4" cy="366.8" r="3.58"/><circle cx="339.3" cy="371.1" r="3.58"/><circle cx="343.7" cy="372.4" r="3.58"/><circle cx="352.5" cy="369.3" r="3.58"/><circle cx="349.3" cy="375.5" r="3.58"/><circle cx="358.7" cy="378.0" r="3.58"/><circle cx="354.1" cy="383.1" r="3.58"/><circle cx="357.5" cy="390.0" r="3.58"/><circle cx="342.8" cy="390.8" r="3.58"/><circle cx="349.3" cy="391.8" r="3.58"/><circle cx="338.0" cy="392.8" r="3.58"/><circle cx="344.3" cy="398.1" r="3.58"/><circle cx="358.7" cy="397.5" r="3.58"/><circle cx="355.0" cy="395.6" r="3.58"/><circle cx="347.5" cy="403.7" r="3.58"/><circle cx="349.3" cy="411.0" r="3.58"/><circle cx="337.4" cy="406.9" r="3.58"/><circle cx="341.8" cy="409.6" r="3.58"/><circle cx="329.9" cy="403.7" r="3.58"/><circle cx="324.3" cy="401.2" r="3.58"/><circle cx="315.5" cy="401.9" r="3.58"/><circle cx="314.2" cy="406.6" r="3.58"/><circle cx="305.2" cy="406.9" r="3.58"/><circle cx="305.5" cy="411.9" r="3.58"/><circle cx="298.2" cy="411.3" r="3.58"/><circle cx="319.2" cy="415.0" r="3.58"/><circle cx="325.5" cy="411.3" r="3.58"/><circle cx="328.0" cy="415.7" r="3.58"/><circle cx="333.0" cy="416.3" r="3.58"/><circle cx="339.9" cy="416.3" r="3.58"/><circle cx="313.0" cy="418.4" r="3.58"/><circle cx="304.5" cy="418.8" r="3.58"/><circle cx="294.8" cy="418.2" r="3.58"/><circle cx="287.9" cy="406.9" r="3.58"/><circle cx="284.1" cy="410.4" r="3.58"/><circle cx="281.6" cy="406.9" r="3.58"/><circle cx="279.1" cy="413.1" r="3.58"/><circle cx="287.9" cy="416.3" r="3.58"/><circle cx="282.3" cy="418.4" r="3.58"/><circle cx="275.4" cy="418.2" r="3.58"/><circle cx="269.4" cy="416.7" r="3.58"/><circle cx="253.4" cy="409.4" r="3.58"/><circle cx="255.3" cy="415.7" r="3.58"/><circle cx="259.1" cy="414.4" r="3.58"/><circle cx="252.8" cy="420.7" r="3.58"/><circle cx="247.8" cy="423.8" r="3.58"/><circle cx="258.8" cy="425.1" r="3.58"/><circle cx="238.8" cy="415.7" r="3.58"/><circle cx="243.4" cy="418.2" r="3.58"/><circle cx="237.8" cy="420.9" r="3.58"/><circle cx="245.3" cy="416.9" r="3.58"/><circle cx="240.3" cy="428.2" r="3.58"/><circle cx="234.6" cy="426.3" r="3.58"/><circle cx="267.0" cy="425.3" r="3.58"/><circle cx="277.6" cy="428.8" r="3.58"/><circle cx="267.8" cy="433.8" r="3.58"/><circle cx="274.1" cy="435.1" r="3.58"/><circle cx="282.9" cy="435.7" r="3.58"/><circle cx="288.5" cy="432.6" r="3.58"/><circle cx="291.7" cy="436.3" r="3.58"/><circle cx="296.7" cy="430.1" r="3.58"/><circle cx="304.2" cy="427.6" r="3.58"/><circle cx="303.6" cy="435.7" r="3.58"/><circle cx="309.8" cy="435.7" r="3.58"/><circle cx="321.8" cy="425.1" r="3.58"/><circle cx="325.5" cy="424.4" r="3.58"/><circle cx="326.8" cy="430.7" r="3.58"/><circle cx="329.9" cy="435.7" r="3.58"/><circle cx="323.6" cy="435.7" r="3.58"/><circle cx="334.9" cy="426.3" r="3.58"/><circle cx="336.8" cy="430.7" r="3.58"/><circle cx="343.1" cy="428.8" r="3.58"/><circle cx="347.5" cy="433.2" r="3.58"/><circle cx="351.2" cy="421.3" r="3.58"/><circle cx="356.9" cy="416.9" r="3.58"/><circle cx="360.0" cy="421.9" r="3.58"/><circle cx="356.2" cy="429.4" r="3.58"/><circle cx="349.3" cy="425.7" r="3.58"/><circle cx="361.2" cy="428.2" r="3.58"/><circle cx="257.8" cy="437.0" r="3.58"/><circle cx="246.5" cy="435.1" r="3.58"/><circle cx="237.4" cy="432.9" r="3.58"/><circle cx="252.2" cy="426.9" r="3.58"/><circle cx="287.9" cy="438.8" r="3.58"/><circle cx="316.1" cy="439.5" r="3.58"/><circle cx="367.0" cy="363.0" r="3.58"/><circle cx="374.9" cy="367.0" r="3.58"/><circle cx="388.3" cy="369.9" r="3.58"/><circle cx="392.5" cy="373.7" r="3.58"/><circle cx="397.7" cy="376.8" r="3.58"/><circle cx="397.4" cy="368.3" r="3.58"/><circle cx="403.1" cy="365.5" r="3.58"/><circle cx="409.0" cy="368.6" r="3.58"/><circle cx="405.2" cy="372.4" r="3.58"/><circle cx="410.3" cy="374.9" r="3.58"/><circle cx="410.9" cy="379.9" r="3.58"/><circle cx="422.8" cy="363.6" r="3.58"/><circle cx="424.1" cy="369.9" r="3.58"/><circle cx="426.6" cy="375.3" r="3.58"/><circle cx="430.9" cy="367.4" r="3.58"/><circle cx="437.2" cy="364.9" r="3.58"/><circle cx="440.4" cy="369.3" r="3.58"/><circle cx="434.7" cy="378.0" r="3.58"/><circle cx="436.5" cy="381.2" r="3.58"/><circle cx="448.5" cy="366.8" r="3.58"/><circle cx="452.2" cy="362.0" r="3.58"/><circle cx="442.2" cy="374.9" r="3.58"/><circle cx="418.4" cy="378.7" r="3.58"/><circle cx="420.9" cy="381.8" r="3.58"/><circle cx="419.0" cy="386.2" r="3.58"/><circle cx="426.2" cy="384.9" r="3.58"/><circle cx="406.5" cy="385.6" r="3.58"/><circle cx="411.9" cy="388.7" r="3.58"/><circle cx="405.2" cy="391.2" r="3.58"/><circle cx="405.9" cy="395.8" r="3.58"/><circle cx="410.9" cy="400.0" r="3.58"/><circle cx="417.2" cy="396.6" r="3.58"/><circle cx="422.2" cy="393.7" r="3.58"/><circle cx="425.2" cy="392.4" r="3.58"/><circle cx="400.9" cy="399.4" r="3.58"/><circle cx="403.4" cy="406.2" r="3.58"/><circle cx="409.0" cy="405.6" r="3.58"/><circle cx="374.5" cy="382.8" r="3.58"/><circle cx="371.4" cy="382.4" r="3.58"/><circle cx="382.7" cy="387.4" r="3.58"/><circle cx="387.7" cy="389.3" r="3.58"/><circle cx="366.8" cy="390.6" r="3.58"/><circle cx="373.0" cy="392.1" r="3.58"/><circle cx="374.8" cy="397.1" r="3.58"/><circle cx="380.2" cy="399.4" r="3.58"/><circle cx="384.6" cy="398.7" r="3.58"/><circle cx="382.1" cy="394.3" r="3.58"/><circle cx="362.6" cy="396.2" r="3.58"/><circle cx="364.3" cy="405.6" r="3.58"/><circle cx="377.7" cy="408.8" r="3.58"/><circle cx="385.2" cy="408.1" r="3.58"/><circle cx="390.8" cy="406.2" r="3.58"/><circle cx="392.7" cy="411.9" r="3.58"/><circle cx="398.4" cy="410.6" r="3.58"/><circle cx="378.9" cy="413.8" r="3.58"/><circle cx="387.1" cy="417.5" r="3.58"/><circle cx="388.2" cy="418.7" r="3.58"/><circle cx="366.8" cy="418.8" r="3.58"/><circle cx="374.5" cy="421.3" r="3.58"/><circle cx="378.1" cy="423.9" r="3.58"/><circle cx="370.8" cy="422.5" r="3.58"/><circle cx="365.8" cy="428.2" r="3.58"/><circle cx="362.6" cy="421.9" r="3.58"/><circle cx="402.7" cy="410.0" r="3.58"/><circle cx="274.7" cy="441.0" r="3.58"/><circle cx="284.1" cy="441.8" r="3.58"/><circle cx="294.1" cy="442.2" r="3.58"/><circle cx="298.4" cy="440.1" r="3.58"/><circle cx="311.0" cy="439.4" r="3.58"/><circle cx="308.4" cy="441.8" r="3.58"/><circle cx="331.5" cy="439.0" r="3.58"/><circle cx="324.7" cy="440.1" r="3.58"/><circle cx="340.9" cy="437.0" r="3.58"/><circle cx="257.7" cy="437.6" r="3.58"/></g>
<circle cx="296.4" cy="250.8" r="191.8" fill="none" stroke="#000" stroke-width="1"/>
<circle cx="296.4" cy="250.8" r="13.15" fill="none" stroke="#988ED5" stroke-width="4.7"/>
<rect x="593.0" y="40.7" width="420.4" height="420.3" fill="#E5E5E5"/>
<line x1="611.6" y1="40.7" x2="611.6" y2="461.0" stroke="#fff" stroke-opacity="0.7" stroke-width="1.3"/>
<line x1="593.0" y1="442.6" x2="1013.4" y2="442.6" stroke="#fff" stroke-opacity="0.7" stroke-width="1.3"/>
<line x1="611.6" y1="463.0" x2="611.6" y2="468.8" stroke="#777777" stroke-width="1.1"/>
<line x1="611.6" y1="39.0" x2="611.6" y2="33.0" stroke="#777777" stroke-width="1.1"/>
<line x1="591.2" y1="442.6" x2="585.2" y2="442.6" stroke="#777777" stroke-width="1.1"/>
<line x1="1015.1999999999999" y1="442.6" x2="1021.1999999999999" y2="442.6" stroke="#777777" stroke-width="1.1"/>
<line x1="803.4" y1="40.7" x2="803.4" y2="461.0" stroke="#fff" stroke-opacity="0.7" stroke-width="1.3"/>
<line x1="593.0" y1="250.8" x2="1013.4" y2="250.8" stroke="#fff" stroke-opacity="0.7" stroke-width="1.3"/>
<line x1="803.4" y1="463.0" x2="803.4" y2="468.8" stroke="#777777" stroke-width="1.1"/>
<line x1="803.4" y1="39.0" x2="803.4" y2="33.0" stroke="#777777" stroke-width="1.1"/>
<line x1="591.2" y1="250.8" x2="585.2" y2="250.8" stroke="#777777" stroke-width="1.1"/>
<line x1="1015.1999999999999" y1="250.8" x2="1021.1999999999999" y2="250.8" stroke="#777777" stroke-width="1.1"/>
<line x1="995.2" y1="40.7" x2="995.2" y2="461.0" stroke="#fff" stroke-opacity="0.7" stroke-width="1.3"/>
<line x1="593.0" y1="59.0" x2="1013.4" y2="59.0" stroke="#fff" stroke-opacity="0.7" stroke-width="1.3"/>
<line x1="995.2" y1="463.0" x2="995.2" y2="468.8" stroke="#777777" stroke-width="1.1"/>
<line x1="995.2" y1="39.0" x2="995.2" y2="33.0" stroke="#777777" stroke-width="1.1"/>
<line x1="591.2" y1="59.0" x2="585.2" y2="59.0" stroke="#777777" stroke-width="1.1"/>
<line x1="1015.1999999999999" y1="59.0" x2="1021.1999999999999" y2="59.0" stroke="#777777" stroke-width="1.1"/>
<g fill="#E24A33" stroke="#fff" stroke-width="0.65"><circle cx="749.3" cy="70.8" r="3.58"/><circle cx="801.0" cy="71.6" r="3.58"/><circle cx="787.0" cy="76.7" r="3.58"/><circle cx="785.4" cy="78.7" r="3.58"/><circle cx="754.3" cy="80.1" r="3.58"/><circle cx="746.1" cy="82.1" r="3.58"/><circle cx="758.5" cy="83.3" r="3.58"/><circle cx="778.4" cy="84.9" r="3.58"/><circle cx="783.8" cy="84.9" r="3.58"/><circle cx="730.3" cy="86.1" r="3.58"/><circle cx="796.0" cy="89.5" r="3.58"/><circle cx="782.0" cy="90.7" r="3.58"/><circle cx="768.9" cy="92.3" r="3.58"/><circle cx="711.8" cy="92.7" r="3.58"/><circle cx="713.2" cy="96.5" r="3.58"/><circle cx="792.8" cy="94.5" r="3.58"/><circle cx="801.4" cy="92.7" r="3.58"/><circle cx="799.4" cy="98.3" r="3.58"/><circle cx="791.0" cy="99.5" r="3.58"/><circle cx="731.3" cy="106.3" r="3.58"/><circle cx="766.7" cy="105.9" r="3.58"/><circle cx="745.1" cy="108.9" r="3.58"/><circle cx="787.2" cy="108.9" r="3.58"/><circle cx="802.4" cy="107.1" r="3.58"/><circle cx="706.2" cy="111.9" r="3.58"/><circle cx="783.0" cy="114.7" r="3.58"/><circle cx="794.0" cy="113.3" r="3.58"/><circle cx="798.4" cy="113.3" r="3.58"/><circle cx="703.4" cy="120.7" r="3.58"/><circle cx="712.2" cy="121.1" r="3.58"/><circle cx="725.7" cy="123.1" r="3.58"/><circle cx="766.9" cy="121.7" r="3.58"/><circle cx="797.4" cy="120.1" r="3.58"/><circle cx="798.4" cy="123.7" r="3.58"/><circle cx="761.3" cy="126.2" r="3.58"/><circle cx="675.2" cy="128.4" r="3.58"/><circle cx="706.8" cy="130.6" r="3.58"/><circle cx="752.9" cy="130.6" r="3.58"/><circle cx="695.6" cy="132.4" r="3.58"/><circle cx="745.1" cy="132.4" r="3.58"/><circle cx="759.3" cy="133.8" r="3.58"/><circle cx="785.4" cy="129.6" r="3.58"/><circle cx="789.0" cy="131.8" r="3.58"/><circle cx="782.0" cy="133.8" r="3.58"/><circle cx="802.0" cy="130.2" r="3.58"/><circle cx="777.8" cy="136.8" r="3.58"/><circle cx="783.0" cy="138.8" r="3.58"/><circle cx="786.4" cy="136.2" r="3.58"/><circle cx="756.3" cy="137.8" r="3.58"/><circle cx="761.9" cy="138.2" r="3.58"/><circle cx="742.9" cy="139.2" r="3.58"/><circle cx="666.7" cy="140.4" r="3.58"/><circle cx="766.7" cy="143.0" r="3.58"/><circle cx="753.9" cy="145.0" r="3.58"/><circle cx="780.4" cy="145.8" r="3.58"/><circle cx="791.8" cy="146.8" r="3.58"/><circle cx="801.4" cy="142.6" r="3.58"/><circle cx="802.0" cy="148.2" r="3.58"/><circle cx="727.3" cy="150.6" r="3.58"/><circle cx="755.3" cy="152.6" r="3.58"/><circle cx="770.9" cy="152.6" r="3.58"/><circle cx="751.7" cy="157.0" r="3.58"/><circle cx="773.7" cy="157.6" r="3.58"/><circle cx="799.8" cy="155.8" r="3.58"/><circle cx="740.9" cy="160.0" r="3.58"/><circle cx="663.5" cy="161.4" r="3.58"/><circle cx="801.4" cy="161.8" r="3.58"/><circle cx="635.5" cy="164.2" r="3.58"/><circle cx="673.9" cy="164.0" r="3.58"/><circle cx="733.7" cy="165.4" r="3.58"/><circle cx="718.6" cy="167.2" r="3.58"/><circle cx="777.6" cy="166.6" r="3.58"/><circle cx="783.8" cy="166.4" r="3.58"/><circle cx="655.7" cy="169.6" r="3.58"/><circle cx="661.5" cy="170.2" r="3.58"/><circle cx="681.6" cy="169.8" r="3.58"/><circle cx="720.2" cy="170.8" r="3.58"/><circle cx="760.3" cy="172.2" r="3.58"/><circle cx="789.4" cy="172.2" r="3.58"/><circle cx="797.4" cy="171.2" r="3.58"/><circle cx="717.2" cy="180.0" r="3.58"/><circle cx="743.7" cy="179.0" r="3.58"/><circle cx="759.9" cy="175.0" r="3.58"/><circle cx="788.8" cy="175.0" r="3.58"/><circle cx="795.4" cy="177.4" r="3.58"/><circle cx="801.4" cy="176.0" r="3.58"/><circle cx="787.0" cy="182.6" r="3.58"/><circle cx="798.4" cy="183.0" r="3.58"/><circle cx="676.2" cy="185.8" r="3.58"/><circle cx="674.5" cy="188.2" r="3.58"/><circle cx="732.5" cy="187.6" r="3.58"/><circle cx="731.7" cy="192.6" r="3.58"/><circle cx="755.7" cy="188.0" r="3.58"/><circle cx="696.8" cy="193.8" r="3.58"/><circle cx="688.8" cy="197.8" r="3.58"/><circle cx="764.5" cy="198.5" r="3.58"/><circle cx="788.4" cy="196.8" r="3.58"/><circle cx="679.8" cy="203.1" r="3.58"/><circle cx="694.8" cy="204.1" r="3.58"/><circle cx="786.0" cy="203.1" r="3.58"/><circle cx="796.0" cy="207.1" r="3.58"/><circle cx="802.4" cy="206.7" r="3.58"/><circle cx="736.7" cy="209.7" r="3.58"/><circle cx="731.7" cy="213.5" r="3.58"/><circle cx="779.4" cy="212.5" r="3.58"/><circle cx="787.8" cy="210.7" r="3.58"/><circle cx="782.4" cy="216.3" r="3.58"/><circle cx="798.0" cy="214.1" r="3.58"/><circle cx="684.8" cy="214.1" r="3.58"/><circle cx="693.8" cy="216.9" r="3.58"/><circle cx="701.2" cy="214.5" r="3.58"/><circle cx="718.6" cy="219.3" r="3.58"/><circle cx="727.7" cy="221.9" r="3.58"/><circle cx="734.9" cy="220.7" r="3.58"/><circle cx="717.2" cy="224.5" r="3.58"/><circle cx="763.7" cy="220.5" r="3.58"/><circle cx="761.7" cy="225.1" r="3.58"/><circle cx="746.7" cy="225.9" r="3.58"/><circle cx="751.7" cy="228.1" r="3.58"/><circle cx="751.5" cy="231.7" r="3.58"/><circle cx="782.2" cy="226.3" r="3.58"/><circle cx="677.6" cy="226.3" r="3.58"/><circle cx="622.4" cy="238.7" r="3.58"/><circle cx="702.8" cy="239.3" r="3.58"/><circle cx="702.2" cy="243.5" r="3.58"/><circle cx="717.6" cy="239.3" r="3.58"/><circle cx="726.1" cy="237.1" r="3.58"/><circle cx="736.3" cy="237.7" r="3.58"/><circle cx="750.1" cy="239.7" r="3.58"/><circle cx="768.7" cy="239.5" r="3.58"/><circle cx="796.2" cy="237.1" r="3.58"/><circle cx="663.7" cy="244.3" r="3.58"/><circle cx="683.2" cy="243.3" r="3.58"/><circle cx="701.2" cy="248.8" r="3.58"/><circle cx="744.9" cy="246.7" r="3.58"/><circle cx="742.9" cy="248.8" r="3.58"/><circle cx="765.3" cy="248.8" r="3.58"/><circle cx="773.3" cy="247.9" r="3.58"/><circle cx="777.0" cy="248.8" r="3.58"/><circle cx="781.2" cy="251.8" r="3.58"/><circle cx="792.0" cy="252.4" r="3.58"/><circle cx="775.8" cy="256.0" r="3.58"/><circle cx="674.9" cy="253.6" r="3.58"/><circle cx="656.3" cy="262.2" r="3.58"/><circle cx="679.6" cy="261.2" r="3.58"/><circle cx="701.2" cy="260.2" r="3.58"/><circle cx="699.8" cy="262.8" r="3.58"/><circle cx="714.0" cy="259.6" r="3.58"/><circle cx="734.9" cy="262.0" r="3.58"/><circle cx="687.0" cy="267.6" r="3.58"/><circle cx="706.2" cy="268.6" r="3.58"/><circle cx="725.7" cy="272.2" r="3.58"/><circle cx="733.9" cy="273.6" r="3.58"/><circle cx="748.1" cy="272.2" r="3.58"/><circle cx="800.0" cy="264.4" r="3.58"/><circle cx="798.4" cy="270.2" r="3.58"/><circle cx="666.9" cy="277.6" r="3.58"/><circle cx="763.7" cy="276.0" r="3.58"/><circle cx="765.9" cy="280.6" r="3.58"/><circle cx="770.7" cy="282.8" r="3.58"/><circle cx="781.4" cy="281.0" r="3.58"/><circle cx="704.0" cy="281.8" r="3.58"/><circle cx="715.4" cy="282.6" r="3.58"/><circle cx="655.9" cy="289.0" r="3.58"/><circle cx="672.3" cy="288.2" r="3.58"/><circle cx="743.5" cy="289.8" r="3.58"/><circle cx="775.4" cy="293.8" r="3.58"/><circle cx="802.4" cy="288.6" r="3.58"/><circle cx="654.7" cy="299.6" r="3.58"/><circle cx="643.9" cy="303.2" r="3.58"/><circle cx="694.0" cy="304.4" r="3.58"/><circle cx="762.5" cy="300.6" r="3.58"/><circle cx="780.0" cy="302.4" r="3.58"/><circle cx="802.0" cy="308.4" r="3.58"/><circle cx="780.6" cy="311.4" r="3.58"/><circle cx="734.7" cy="313.6" r="3.58"/><circle cx="731.1" cy="314.8" r="3.58"/><circle cx="748.5" cy="316.8" r="3.58"/><circle cx="779.6" cy="319.6" r="3.58"/><circle cx="655.5" cy="318.0" r="3.58"/><circle cx="648.3" cy="320.4" r="3.58"/><circle cx="724.0" cy="322.1" r="3.58"/><circle cx="667.1" cy="328.7" r="3.58"/><circle cx="660.5" cy="333.9" r="3.58"/><circle cx="718.6" cy="333.3" r="3.58"/><circle cx="750.1" cy="333.3" r="3.58"/><circle cx="783.8" cy="332.3" r="3.58"/><circle cx="700.8" cy="338.7" r="3.58"/><circle cx="802.0" cy="340.1" r="3.58"/><circle cx="674.5" cy="354.9" r="3.58"/><circle cx="781.2" cy="357.1" r="3.58"/><circle cx="737.9" cy="372.0" r="3.58"/><circle cx="798.0" cy="380.2" r="3.58"/><circle cx="701.8" cy="387.4" r="3.58"/><circle cx="731.1" cy="388.6" r="3.58"/><circle cx="781.0" cy="394.4" r="3.58"/><circle cx="701.6" cy="403.8" r="3.58"/><circle cx="712.2" cy="410.6" r="3.58"/><circle cx="789.0" cy="410.6" r="3.58"/><circle cx="767.7" cy="417.4" r="3.58"/><circle cx="781.6" cy="417.6" r="3.58"/><circle cx="788.0" cy="432.1" r="3.58"/><circle cx="834.9" cy="418.8" r="3.58"/><circle cx="855.7" cy="406.0" r="3.58"/><circle cx="812.8" cy="300.2" r="3.58"/><circle cx="836.3" cy="304.0" r="3.58"/><circle cx="854.7" cy="300.4" r="3.58"/><circle cx="857.5" cy="301.0" r="3.58"/><circle cx="899.8" cy="299.2" r="3.58"/><circle cx="909.6" cy="301.4" r="3.58"/><circle cx="896.2" cy="304.6" r="3.58"/><circle cx="907.8" cy="305.6" r="3.58"/><circle cx="926.2" cy="297.6" r="3.58"/><circle cx="925.2" cy="300.4" r="3.58"/><circle cx="958.9" cy="302.6" r="3.58"/><circle cx="810.8" cy="312.0" r="3.58"/><circle cx="860.3" cy="312.0" r="3.58"/><circle cx="868.1" cy="310.6" r="3.58"/><circle cx="928.0" cy="311.2" r="3.58"/><circle cx="941.7" cy="313.0" r="3.58"/><circle cx="920.8" cy="315.4" r="3.58"/><circle cx="927.0" cy="318.6" r="3.58"/><circle cx="901.6" cy="318.0" r="3.58"/><circle cx="900.2" cy="321.3" r="3.58"/><circle cx="952.5" cy="322.1" r="3.58"/><circle cx="820.6" cy="320.8" r="3.58"/><circle cx="825.0" cy="327.5" r="3.58"/><circle cx="942.7" cy="327.1" r="3.58"/><circle cx="886.2" cy="333.7" r="3.58"/><circle cx="853.5" cy="335.7" r="3.58"/><circle cx="909.6" cy="338.7" r="3.58"/><circle cx="808.8" cy="349.5" r="3.58"/><circle cx="805.6" cy="350.5" r="3.58"/><circle cx="860.1" cy="351.1" r="3.58"/><circle cx="921.2" cy="350.1" r="3.58"/><circle cx="942.9" cy="351.1" r="3.58"/><circle cx="865.5" cy="360.1" r="3.58"/><circle cx="914.0" cy="358.7" r="3.58"/><circle cx="848.3" cy="367.5" r="3.58"/><circle cx="891.2" cy="364.9" r="3.58"/><circle cx="889.8" cy="370.7" r="3.58"/><circle cx="946.5" cy="371.6" r="3.58"/><circle cx="935.3" cy="376.6" r="3.58"/><circle cx="811.8" cy="379.8" r="3.58"/><circle cx="820.0" cy="383.8" r="3.58"/><circle cx="810.6" cy="392.8" r="3.58"/><circle cx="817.4" cy="391.8" r="3.58"/><circle cx="851.1" cy="389.0" r="3.58"/><circle cx="859.7" cy="386.8" r="3.58"/><circle cx="910.4" cy="397.4" r="3.58"/><circle cx="855.7" cy="405.8" r="3.58"/><circle cx="808.0" cy="177.4" r="3.58"/><circle cx="819.0" cy="176.6" r="3.58"/><circle cx="826.0" cy="180.0" r="3.58"/><circle cx="812.0" cy="183.0" r="3.58"/><circle cx="819.0" cy="186.4" r="3.58"/><circle cx="832.5" cy="186.0" r="3.58"/><circle cx="840.1" cy="184.6" r="3.58"/><circle cx="841.1" cy="179.0" r="3.58"/><circle cx="836.1" cy="175.0" r="3.58"/><circle cx="849.1" cy="176.6" r="3.58"/><circle cx="850.5" cy="183.0" r="3.58"/><circle cx="855.1" cy="186.0" r="3.58"/><circle cx="856.5" cy="189.4" r="3.58"/><circle cx="867.7" cy="177.0" r="3.58"/><circle cx="875.1" cy="176.0" r="3.58"/><circle cx="867.7" cy="183.4" r="3.58"/><circle cx="873.5" cy="188.0" r="3.58"/><circle cx="870.7" cy="191.4" r="3.58"/><circle cx="882.2" cy="186.0" r="3.58"/><circle cx="888.2" cy="175.0" r="3.58"/><circle cx="884.2" cy="177.0" r="3.58"/><circle cx="891.2" cy="182.0" r="3.58"/><circle cx="900.2" cy="175.0" r="3.58"/><circle cx="902.2" cy="182.0" r="3.58"/><circle cx="899.8" cy="186.0" r="3.58"/><circle cx="895.8" cy="191.4" r="3.58"/><circle cx="912.2" cy="181.0" r="3.58"/><circle cx="914.2" cy="176.0" r="3.58"/><circle cx="919.2" cy="175.0" r="3.58"/><circle cx="917.2" cy="186.4" r="3.58"/><circle cx="928.6" cy="174.0" r="3.58"/><circle cx="938.7" cy="178.4" r="3.58"/><circle cx="947.9" cy="181.0" r="3.58"/><circle cx="957.3" cy="178.0" r="3.58"/><circle cx="961.3" cy="179.4" r="3.58"/><circle cx="969.7" cy="174.0" r="3.58"/><circle cx="945.3" cy="173.4" r="3.58"/><circle cx="821.4" cy="193.8" r="3.58"/><circle cx="831.1" cy="194.6" r="3.58"/><circle cx="807.6" cy="197.4" r="3.58"/><circle cx="828.0" cy="198.7" r="3.58"/><circle cx="834.1" cy="201.1" r="3.58"/><circle cx="828.0" cy="203.5" r="3.58"/><circle cx="833.1" cy="206.1" r="3.58"/><circle cx="805.6" cy="206.7" r="3.58"/><circle cx="814.0" cy="207.5" r="3.58"/><circle cx="817.4" cy="205.5" r="3.58"/><circle cx="819.0" cy="210.5" r="3.58"/><circle cx="864.7" cy="196.0" r="3.58"/><circle cx="865.1" cy="200.1" r="3.58"/><circle cx="877.1" cy="196.0" r="3.58"/><circle cx="886.2" cy="198.1" r="3.58"/><circle cx="886.8" cy="203.1" r="3.58"/><circle cx="892.2" cy="200.1" r="3.58"/><circle cx="895.2" cy="202.1" r="3.58"/><circle cx="896.2" cy="206.1" r="3.58"/><circle cx="888.2" cy="208.7" r="3.58"/><circle cx="902.8" cy="193.6" r="3.58"/><circle cx="902.8" cy="202.5" r="3.58"/><circle cx="902.8" cy="211.5" r="3.58"/><circle cx="915.8" cy="203.5" r="3.58"/><circle cx="925.6" cy="201.5" r="3.58"/><circle cx="944.3" cy="202.5" r="3.58"/><circle cx="952.9" cy="197.0" r="3.58"/><circle cx="954.3" cy="199.5" r="3.58"/><circle cx="960.5" cy="193.6" r="3.58"/><circle cx="970.7" cy="196.6" r="3.58"/><circle cx="979.8" cy="203.5" r="3.58"/><circle cx="952.7" cy="208.1" r="3.58"/><circle cx="968.7" cy="208.7" r="3.58"/><circle cx="961.5" cy="214.3" r="3.58"/><circle cx="847.9" cy="209.1" r="3.58"/><circle cx="855.5" cy="208.7" r="3.58"/><circle cx="863.7" cy="208.7" r="3.58"/><circle cx="877.1" cy="209.1" r="3.58"/><circle cx="857.5" cy="214.7" r="3.58"/><circle cx="852.1" cy="217.1" r="3.58"/><circle cx="854.1" cy="220.1" r="3.58"/><circle cx="878.5" cy="216.3" r="3.58"/><circle cx="881.2" cy="215.7" r="3.58"/><circle cx="814.0" cy="216.1" r="3.58"/><circle cx="810.0" cy="215.7" r="3.58"/><circle cx="824.0" cy="218.7" r="3.58"/><circle cx="807.0" cy="221.7" r="3.58"/><circle cx="822.6" cy="223.7" r="3.58"/><circle cx="829.5" cy="222.3" r="3.58"/><circle cx="841.1" cy="223.1" r="3.58"/><circle cx="836.5" cy="228.1" r="3.58"/><circle cx="845.7" cy="229.9" r="3.58"/><circle cx="869.5" cy="225.9" r="3.58"/><circle cx="868.1" cy="222.1" r="3.58"/><circle cx="888.0" cy="225.3" r="3.58"/><circle cx="887.2" cy="232.5" r="3.58"/><circle cx="897.0" cy="234.1" r="3.58"/><circle cx="911.0" cy="228.7" r="3.58"/><circle cx="923.6" cy="219.5" r="3.58"/><circle cx="933.9" cy="220.1" r="3.58"/><circle cx="934.9" cy="217.5" r="3.58"/><circle cx="944.7" cy="218.7" r="3.58"/><circle cx="945.5" cy="231.1" r="3.58"/><circle cx="980.0" cy="228.3" r="3.58"/><circle cx="965.9" cy="234.9" r="3.58"/><circle cx="827.0" cy="233.1" r="3.58"/><circle cx="831.7" cy="236.1" r="3.58"/><circle cx="838.1" cy="236.7" r="3.58"/><circle cx="832.5" cy="241.7" r="3.58"/><circle cx="847.7" cy="238.1" r="3.58"/><circle cx="856.7" cy="237.5" r="3.58"/><circle cx="866.1" cy="237.9" r="3.58"/><circle cx="874.5" cy="236.1" r="3.58"/><circle cx="888.2" cy="243.1" r="3.58"/><circle cx="896.6" cy="243.1" r="3.58"/><circle cx="896.6" cy="238.1" r="3.58"/><circle cx="905.8" cy="243.5" r="3.58"/><circle cx="903.6" cy="249.4" r="3.58"/><circle cx="915.6" cy="251.0" r="3.58"/><circle cx="922.6" cy="247.5" r="3.58"/><circle cx="938.1" cy="241.1" r="3.58"/><circle cx="977.1" cy="240.9" r="3.58"/><circle cx="952.7" cy="251.4" r="3.58"/><circle cx="816.4" cy="249.4" r="3.58"/><circle cx="821.0" cy="249.0" r="3.58"/><circle cx="827.0" cy="252.8" r="3.58"/><circle cx="838.1" cy="251.6" r="3.58"/><circle cx="840.7" cy="250.8" r="3.58"/><circle cx="859.1" cy="251.8" r="3.58"/><circle cx="864.7" cy="252.4" r="3.58"/><circle cx="885.2" cy="252.8" r="3.58"/><circle cx="830.7" cy="256.0" r="3.58"/><circle cx="812.8" cy="259.6" r="3.58"/><circle cx="819.6" cy="262.2" r="3.58"/><circle cx="826.6" cy="261.8" r="3.58"/><circle cx="819.6" cy="266.2" r="3.58"/><circle cx="821.6" cy="273.8" r="3.58"/><circle cx="844.1" cy="264.4" r="3.58"/><circle cx="851.5" cy="266.2" r="3.58"/><circle cx="852.5" cy="269.6" r="3.58"/><circle cx="865.7" cy="272.4" r="3.58"/><circle cx="879.8" cy="268.0" r="3.58"/><circle cx="883.2" cy="260.2" r="3.58"/><circle cx="894.2" cy="262.8" r="3.58"/><circle cx="906.6" cy="266.2" r="3.58"/><circle cx="910.2" cy="257.6" r="3.58"/><circle cx="940.3" cy="262.6" r="3.58"/><circle cx="942.7" cy="263.8" r="3.58"/><circle cx="950.9" cy="265.6" r="3.58"/><circle cx="943.1" cy="270.8" r="3.58"/><circle cx="965.1" cy="259.4" r="3.58"/><circle cx="962.9" cy="270.6" r="3.58"/><circle cx="973.5" cy="275.6" r="3.58"/><circle cx="822.0" cy="281.2" r="3.58"/><circle cx="807.0" cy="287.2" r="3.58"/><circle cx="819.6" cy="292.6" r="3.58"/><circle cx="850.5" cy="282.8" r="3.58"/><circle cx="854.7" cy="284.2" r="3.58"/><circle cx="863.9" cy="280.4" r="3.58"/><circle cx="896.6" cy="279.0" r="3.58"/><circle cx="966.9" cy="282.8" r="3.58"/><circle cx="944.4" cy="130.9" r="3.58"/><circle cx="951.5" cy="131.4" r="3.58"/><circle cx="949.4" cy="137.8" r="3.58"/><circle cx="956.2" cy="140.3" r="3.58"/><circle cx="953.3" cy="148.6" r="3.58"/><circle cx="953.3" cy="158.0" r="3.58"/><circle cx="969.8" cy="172.6" r="3.58"/><circle cx="935.1" cy="138.1" r="3.58"/><circle cx="929.7" cy="139.3" r="3.58"/><circle cx="930.2" cy="123.8" r="3.58"/><circle cx="925.2" cy="128.2" r="3.58"/><circle cx="921.7" cy="122.1" r="3.58"/><circle cx="918.6" cy="131.9" r="3.58"/><circle cx="911.9" cy="122.9" r="3.58"/><circle cx="915.6" cy="114.0" r="3.58"/><circle cx="925.2" cy="112.5" r="3.58"/><circle cx="941.6" cy="145.8" r="3.58"/><circle cx="939.1" cy="150.4" r="3.58"/><circle cx="930.7" cy="148.9" r="3.58"/><circle cx="922.7" cy="145.8" r="3.58"/><circle cx="916.1" cy="141.3" r="3.58"/><circle cx="910.0" cy="135.2" r="3.58"/><circle cx="909.5" cy="147.9" r="3.58"/><circle cx="938.0" cy="159.0" r="3.58"/><circle cx="932.8" cy="159.5" r="3.58"/><circle cx="926.7" cy="154.4" r="3.58"/><circle cx="915.6" cy="156.9" r="3.58"/><circle cx="909.0" cy="160.5" r="3.58"/><circle cx="916.6" cy="164.0" r="3.58"/><circle cx="910.0" cy="168.1" r="3.58"/><circle cx="934.8" cy="169.1" r="3.58"/><circle cx="939.8" cy="171.1" r="3.58"/><circle cx="945.9" cy="171.6" r="3.58"/><circle cx="928.7" cy="172.3" r="3.58"/><circle cx="922.2" cy="151.9" r="3.58"/><circle cx="932.3" cy="144.8" r="3.58"/><circle cx="923.2" cy="140.8" r="3.58"/><circle cx="921.2" cy="136.7" r="3.58"/><circle cx="907.0" cy="129.2" r="3.58"/><circle cx="906.5" cy="118.1" r="3.58"/><circle cx="823.2" cy="62.5" r="3.58"/><circle cx="820.7" cy="61.5" r="3.58"/><circle cx="833.8" cy="66.3" r="3.58"/><circle cx="840.1" cy="68.8" r="3.58"/><circle cx="843.9" cy="65.3" r="3.58"/><circle cx="847.6" cy="69.4" r="3.58"/><circle cx="855.2" cy="70.3" r="3.58"/><circle cx="810.0" cy="70.7" r="3.58"/><circle cx="815.0" cy="75.7" r="3.58"/><circle cx="818.2" cy="78.8" r="3.58"/><circle cx="827.0" cy="74.4" r="3.58"/><circle cx="825.1" cy="80.1" r="3.58"/><circle cx="830.7" cy="83.2" r="3.58"/><circle cx="808.1" cy="84.5" r="3.58"/><circle cx="812.5" cy="82.8" r="3.58"/><circle cx="865.2" cy="158.3" r="3.58"/><circle cx="899.5" cy="87.6" r="3.58"/><circle cx="856.0" cy="105.2" r="3.58"/><circle cx="836.7" cy="126.0" r="3.58"/><circle cx="908.9" cy="111.6" r="3.58"/><circle cx="883.1" cy="90.1" r="3.58"/><circle cx="887.8" cy="79.7" r="3.58"/><circle cx="874.2" cy="123.2" r="3.58"/><circle cx="876.5" cy="114.4" r="3.58"/><circle cx="850.2" cy="74.6" r="3.58"/><circle cx="855.6" cy="80.8" r="3.58"/><circle cx="873.1" cy="89.4" r="3.58"/><circle cx="881.4" cy="81.3" r="3.58"/><circle cx="880.9" cy="96.1" r="3.58"/><circle cx="847.9" cy="80.7" r="3.58"/><circle cx="880.6" cy="138.1" r="3.58"/><circle cx="881.1" cy="102.1" r="3.58"/><circle cx="883.1" cy="118.0" r="3.58"/><circle cx="822.7" cy="172.5" r="3.58"/><circle cx="840.1" cy="121.3" r="3.58"/><circle cx="868.0" cy="88.7" r="3.58"/><circle cx="884.4" cy="78.2" r="3.58"/><circle cx="810.7" cy="112.4" r="3.58"/><circle cx="841.5" cy="133.1" r="3.58"/><circle cx="871.2" cy="166.1" r="3.58"/><circle cx="892.4" cy="101.5" r="3.58"/><circle cx="817.3" cy="140.3" r="3.58"/><circle cx="819.1" cy="123.6" r="3.58"/><circle cx="843.9" cy="159.0" r="3.58"/><circle cx="886.9" cy="119.2" r="3.58"/><circle cx="895.2" cy="138.4" r="3.58"/><circle cx="863.7" cy="86.3" r="3.58"/><circle cx="895.3" cy="96.1" r="3.58"/><circle cx="904.7" cy="135.0" r="3.58"/><circle cx="880.2" cy="117.7" r="3.58"/><circle cx="866.4" cy="81.8" r="3.58"/><circle cx="843.9" cy="67.0" r="3.58"/><circle cx="856.4" cy="104.3" r="3.58"/><circle cx="837.7" cy="108.8" r="3.58"/><circle cx="859.0" cy="148.3" r="3.58"/><circle cx="889.2" cy="151.3" r="3.58"/><circle cx="827.3" cy="89.1" r="3.58"/><circle cx="858.8" cy="137.1" r="3.58"/><circle cx="845.8" cy="140.6" r="3.58"/><circle cx="862.8" cy="87.9" r="3.58"/><circle cx="848.8" cy="83.6" r="3.58"/><circle cx="816.9" cy="107.8" r="3.58"/><circle cx="859.7" cy="121.0" r="3.58"/><circle cx="870.0" cy="120.8" r="3.58"/><circle cx="922.9" cy="110.9" r="3.58"/><circle cx="886.2" cy="83.5" r="3.58"/><circle cx="813.0" cy="91.2" r="3.58"/><circle cx="899.8" cy="164.3" r="3.58"/><circle cx="838.9" cy="110.4" r="3.58"/><circle cx="837.7" cy="67.3" r="3.58"/><circle cx="830.5" cy="107.6" r="3.58"/><circle cx="856.2" cy="100.2" r="3.58"/><circle cx="867.3" cy="141.3" r="3.58"/><circle cx="830.3" cy="162.3" r="3.58"/><circle cx="895.4" cy="97.9" r="3.58"/><circle cx="850.9" cy="79.0" r="3.58"/><circle cx="866.0" cy="144.3" r="3.58"/><circle cx="869.9" cy="128.9" r="3.58"/><circle cx="864.5" cy="128.9" r="3.58"/><circle cx="886.5" cy="121.7" r="3.58"/><circle cx="875.0" cy="125.6" r="3.58"/><circle cx="835.5" cy="137.6" r="3.58"/><circle cx="811.2" cy="118.2" r="3.58"/><circle cx="845.3" cy="91.3" r="3.58"/><circle cx="845.8" cy="137.8" r="3.58"/><circle cx="829.7" cy="128.5" r="3.58"/><circle cx="867.5" cy="112.6" r="3.58"/><circle cx="846.9" cy="151.4" r="3.58"/><circle cx="863.1" cy="149.6" r="3.58"/><circle cx="881.3" cy="93.4" r="3.58"/><circle cx="856.7" cy="127.3" r="3.58"/><circle cx="844.9" cy="114.4" r="3.58"/><circle cx="842.5" cy="122.3" r="3.58"/><circle cx="854.3" cy="139.1" r="3.58"/><circle cx="831.9" cy="172.9" r="3.58"/><circle cx="865.4" cy="168.9" r="3.58"/><circle cx="899.6" cy="107.6" r="3.58"/><circle cx="819.1" cy="111.6" r="3.58"/><circle cx="879.1" cy="87.8" r="3.58"/><circle cx="871.1" cy="120.6" r="3.58"/><circle cx="879.9" cy="169.1" r="3.58"/><circle cx="864.0" cy="146.5" r="3.58"/><circle cx="834.1" cy="113.7" r="3.58"/><circle cx="897.8" cy="145.4" r="3.58"/><circle cx="858.2" cy="90.3" r="3.58"/><circle cx="893.8" cy="97.7" r="3.58"/><circle cx="873.0" cy="100.6" r="3.58"/><circle cx="829.5" cy="111.8" r="3.58"/><circle cx="885.4" cy="82.5" r="3.58"/><circle cx="869.3" cy="165.0" r="3.58"/><circle cx="878.2" cy="90.6" r="3.58"/><circle cx="887.6" cy="117.8" r="3.58"/><circle cx="897.8" cy="114.8" r="3.58"/><circle cx="884.0" cy="138.7" r="3.58"/><circle cx="888.3" cy="95.3" r="3.58"/><circle cx="861.4" cy="80.0" r="3.58"/><circle cx="877.3" cy="118.8" r="3.58"/><circle cx="869.7" cy="110.5" r="3.58"/><circle cx="877.8" cy="111.3" r="3.58"/><circle cx="869.0" cy="84.1" r="3.58"/><circle cx="922.3" cy="103.7" r="3.58"/><circle cx="849.1" cy="95.9" r="3.58"/><circle cx="886.2" cy="142.4" r="3.58"/><circle cx="822.4" cy="107.4" r="3.58"/><circle cx="872.9" cy="90.5" r="3.58"/><circle cx="904.3" cy="95.7" r="3.58"/><circle cx="848.4" cy="113.0" r="3.58"/><circle cx="884.1" cy="167.8" r="3.58"/><circle cx="894.0" cy="93.8" r="3.58"/><circle cx="843.7" cy="88.1" r="3.58"/><circle cx="850.7" cy="166.5" r="3.58"/><circle cx="833.8" cy="118.6" r="3.58"/><circle cx="818.1" cy="111.4" r="3.58"/><circle cx="868.4" cy="98.5" r="3.58"/><circle cx="863.9" cy="102.3" r="3.58"/><circle cx="840.9" cy="88.3" r="3.58"/><circle cx="873.5" cy="73.6" r="3.58"/><circle cx="844.8" cy="101.4" r="3.58"/><circle cx="878.0" cy="151.3" r="3.58"/><circle cx="893.5" cy="83.1" r="3.58"/><circle cx="857.8" cy="109.6" r="3.58"/><circle cx="859.2" cy="96.2" r="3.58"/><circle cx="848.0" cy="97.0" r="3.58"/><circle cx="862.6" cy="97.7" r="3.58"/><circle cx="880.9" cy="126.8" r="3.58"/><circle cx="836.1" cy="136.7" r="3.58"/><circle cx="858.6" cy="107.3" r="3.58"/><circle cx="859.6" cy="103.8" r="3.58"/><circle cx="858.1" cy="95.1" r="3.58"/><circle cx="913.6" cy="94.4" r="3.58"/><circle cx="842.0" cy="101.8" r="3.58"/><circle cx="882.8" cy="105.7" r="3.58"/><circle cx="835.3" cy="154.1" r="3.58"/><circle cx="905.4" cy="110.4" r="3.58"/><circle cx="864.2" cy="82.8" r="3.58"/><circle cx="845.9" cy="115.3" r="3.58"/><circle cx="853.0" cy="96.3" r="3.58"/><circle cx="896.1" cy="101.5" r="3.58"/><circle cx="870.4" cy="75.2" r="3.58"/><circle cx="851.3" cy="120.3" r="3.58"/><circle cx="897.4" cy="170.5" r="3.58"/><circle cx="864.2" cy="151.8" r="3.58"/><circle cx="882.4" cy="79.9" r="3.58"/><circle cx="877.4" cy="136.0" r="3.58"/><circle cx="864.7" cy="150.3" r="3.58"/><circle cx="860.8" cy="114.7" r="3.58"/><circle cx="871.6" cy="115.9" r="3.58"/><circle cx="876.4" cy="100.9" r="3.58"/><circle cx="858.5" cy="114.4" r="3.58"/><circle cx="899.3" cy="152.2" r="3.58"/><circle cx="859.1" cy="152.1" r="3.58"/><circle cx="865.8" cy="118.7" r="3.58"/><circle cx="901.8" cy="163.6" r="3.58"/><circle cx="923.4" cy="111.6" r="3.58"/><circle cx="878.9" cy="105.2" r="3.58"/><circle cx="837.0" cy="97.2" r="3.58"/><circle cx="894.7" cy="149.1" r="3.58"/><circle cx="852.6" cy="72.0" r="3.58"/><circle cx="864.9" cy="121.2" r="3.58"/><circle cx="848.9" cy="155.7" r="3.58"/><circle cx="836.2" cy="125.0" r="3.58"/><circle cx="851.7" cy="72.7" r="3.58"/><circle cx="868.0" cy="156.8" r="3.58"/><circle cx="859.0" cy="105.6" r="3.58"/><circle cx="879.6" cy="98.3" r="3.58"/><circle cx="825.8" cy="109.5" r="3.58"/><circle cx="856.7" cy="136.3" r="3.58"/><circle cx="903.0" cy="95.0" r="3.58"/><circle cx="836.8" cy="145.7" r="3.58"/><circle cx="861.1" cy="80.0" r="3.58"/><circle cx="870.2" cy="146.0" r="3.58"/><circle cx="902.5" cy="124.7" r="3.58"/><circle cx="902.4" cy="93.7" r="3.58"/><circle cx="856.0" cy="168.2" r="3.58"/><circle cx="886.6" cy="123.8" r="3.58"/><circle cx="842.7" cy="144.8" r="3.58"/><circle cx="890.5" cy="128.9" r="3.58"/><circle cx="905.7" cy="90.7" r="3.58"/><circle cx="820.0" cy="107.9" r="3.58"/><circle cx="898.9" cy="107.3" r="3.58"/><circle cx="883.8" cy="85.5" r="3.58"/><circle cx="895.4" cy="120.2" r="3.58"/><circle cx="858.6" cy="83.1" r="3.58"/><circle cx="894.6" cy="129.6" r="3.58"/><circle cx="887.5" cy="119.8" r="3.58"/><circle cx="889.5" cy="94.1" r="3.58"/><circle cx="849.4" cy="103.0" r="3.58"/><circle cx="853.6" cy="105.1" r="3.58"/><circle cx="848.0" cy="138.6" r="3.58"/><circle cx="881.3" cy="102.4" r="3.58"/><circle cx="854.5" cy="79.0" r="3.58"/><circle cx="899.3" cy="159.9" r="3.58"/><circle cx="848.4" cy="89.9" r="3.58"/><circle cx="895.2" cy="118.0" r="3.58"/><circle cx="886.8" cy="83.0" r="3.58"/><circle cx="865.5" cy="88.4" r="3.58"/><circle cx="847.2" cy="141.9" r="3.58"/><circle cx="872.9" cy="84.4" r="3.58"/><circle cx="804.8" cy="165.6" r="3.58"/><circle cx="887.0" cy="83.3" r="3.58"/><circle cx="884.9" cy="105.3" r="3.58"/><circle cx="826.6" cy="115.9" r="3.58"/><circle cx="833.8" cy="114.3" r="3.58"/><circle cx="864.0" cy="125.2" r="3.58"/><circle cx="845.5" cy="99.6" r="3.58"/><circle cx="854.7" cy="127.2" r="3.58"/><circle cx="858.9" cy="119.3" r="3.58"/><circle cx="886.6" cy="95.2" r="3.58"/><circle cx="892.8" cy="138.1" r="3.58"/><circle cx="833.2" cy="101.7" r="3.58"/><circle cx="898.9" cy="94.7" r="3.58"/><circle cx="885.9" cy="116.5" r="3.58"/><circle cx="845.0" cy="96.3" r="3.58"/><circle cx="805.7" cy="109.1" r="3.58"/><circle cx="870.6" cy="122.4" r="3.58"/><circle cx="818.5" cy="124.0" r="3.58"/><circle cx="883.5" cy="113.8" r="3.58"/><circle cx="860.4" cy="70.6" r="3.58"/><circle cx="885.0" cy="146.8" r="3.58"/><circle cx="850.5" cy="118.6" r="3.58"/><circle cx="855.6" cy="109.4" r="3.58"/><circle cx="875.9" cy="140.1" r="3.58"/><circle cx="841.7" cy="165.7" r="3.58"/><circle cx="811.5" cy="100.5" r="3.58"/><circle cx="856.5" cy="158.5" r="3.58"/><circle cx="882.8" cy="142.3" r="3.58"/><circle cx="878.7" cy="162.7" r="3.58"/><circle cx="849.8" cy="75.5" r="3.58"/><circle cx="843.2" cy="64.5" r="3.58"/><circle cx="881.1" cy="100.0" r="3.58"/><circle cx="893.0" cy="144.9" r="3.58"/><circle cx="893.9" cy="90.4" r="3.58"/><circle cx="845.1" cy="162.3" r="3.58"/><circle cx="890.2" cy="109.4" r="3.58"/><circle cx="874.6" cy="85.7" r="3.58"/><circle cx="883.0" cy="80.7" r="3.58"/><circle cx="903.0" cy="140.4" r="3.58"/><circle cx="838.2" cy="94.8" r="3.58"/><circle cx="811.3" cy="121.3" r="3.58"/><circle cx="893.3" cy="135.4" r="3.58"/><circle cx="880.5" cy="114.1" r="3.58"/><circle cx="889.7" cy="110.5" r="3.58"/><circle cx="859.6" cy="128.1" r="3.58"/><circle cx="884.3" cy="137.3" r="3.58"/><circle cx="839.6" cy="93.3" r="3.58"/><circle cx="863.8" cy="87.5" r="3.58"/><circle cx="825.8" cy="115.8" r="3.58"/><circle cx="844.6" cy="172.2" r="3.58"/><circle cx="874.1" cy="126.7" r="3.58"/><circle cx="844.2" cy="170.2" r="3.58"/><circle cx="830.2" cy="163.1" r="3.58"/><circle cx="857.8" cy="113.2" r="3.58"/><circle cx="882.2" cy="99.8" r="3.58"/><circle cx="860.9" cy="91.2" r="3.58"/><circle cx="859.9" cy="140.1" r="3.58"/><circle cx="869.9" cy="102.2" r="3.58"/><circle cx="867.8" cy="78.2" r="3.58"/><circle cx="829.4" cy="105.3" r="3.58"/><circle cx="870.6" cy="172.8" r="3.58"/><circle cx="856.5" cy="121.8" r="3.58"/><circle cx="874.6" cy="115.3" r="3.58"/><circle cx="873.8" cy="104.6" r="3.58"/><circle cx="897.3" cy="85.1" r="3.58"/><circle cx="882.5" cy="86.2" r="3.58"/><circle cx="873.6" cy="166.1" r="3.58"/><circle cx="863.0" cy="92.7" r="3.58"/><circle cx="864.3" cy="74.3" r="3.58"/><circle cx="897.0" cy="88.6" r="3.58"/><circle cx="903.1" cy="134.7" r="3.58"/><circle cx="896.4" cy="143.5" r="3.58"/><circle cx="878.6" cy="136.5" r="3.58"/><circle cx="836.4" cy="173.8" r="3.58"/><circle cx="855.4" cy="111.3" r="3.58"/><circle cx="887.7" cy="89.1" r="3.58"/><circle cx="921.4" cy="102.6" r="3.58"/><circle cx="845.2" cy="121.8" r="3.58"/><circle cx="904.9" cy="94.4" r="3.58"/><circle cx="863.6" cy="94.0" r="3.58"/><circle cx="840.5" cy="108.7" r="3.58"/><circle cx="823.4" cy="90.6" r="3.58"/><circle cx="835.9" cy="109.6" r="3.58"/><circle cx="891.0" cy="109.6" r="3.58"/><circle cx="813.4" cy="129.6" r="3.58"/><circle cx="859.9" cy="70.4" r="3.58"/><circle cx="811.5" cy="106.9" r="3.58"/><circle cx="860.1" cy="123.5" r="3.58"/><circle cx="856.8" cy="82.2" r="3.58"/><circle cx="806.0" cy="121.5" r="3.58"/><circle cx="874.0" cy="100.0" r="3.58"/><circle cx="891.5" cy="82.9" r="3.58"/><circle cx="867.6" cy="89.5" r="3.58"/><circle cx="821.7" cy="115.8" r="3.58"/><circle cx="842.3" cy="85.1" r="3.58"/><circle cx="835.5" cy="92.6" r="3.58"/><circle cx="835.1" cy="115.9" r="3.58"/><circle cx="851.8" cy="117.0" r="3.58"/><circle cx="870.5" cy="135.9" r="3.58"/><circle cx="845.1" cy="66.4" r="3.58"/><circle cx="897.7" cy="125.4" r="3.58"/><circle cx="856.3" cy="122.6" r="3.58"/><circle cx="896.9" cy="135.3" r="3.58"/><circle cx="864.7" cy="105.6" r="3.58"/><circle cx="865.7" cy="124.5" r="3.58"/><circle cx="826.2" cy="102.6" r="3.58"/><circle cx="889.1" cy="112.1" r="3.58"/><circle cx="836.9" cy="149.1" r="3.58"/><circle cx="864.3" cy="143.2" r="3.58"/><circle cx="886.5" cy="116.7" r="3.58"/><circle cx="869.4" cy="121.0" r="3.58"/><circle cx="861.4" cy="123.1" r="3.58"/><circle cx="845.1" cy="75.5" r="3.58"/><circle cx="911.5" cy="104.4" r="3.58"/><circle cx="893.9" cy="86.9" r="3.58"/><circle cx="878.1" cy="167.2" r="3.58"/><circle cx="825.9" cy="152.6" r="3.58"/><circle cx="813.5" cy="111.8" r="3.58"/><circle cx="877.6" cy="100.7" r="3.58"/><circle cx="900.8" cy="160.9" r="3.58"/><circle cx="865.0" cy="78.7" r="3.58"/><circle cx="883.9" cy="96.1" r="3.58"/><circle cx="896.1" cy="133.5" r="3.58"/><circle cx="837.3" cy="108.0" r="3.58"/><circle cx="833.2" cy="110.8" r="3.58"/><circle cx="886.6" cy="159.7" r="3.58"/><circle cx="850.2" cy="119.8" r="3.58"/><circle cx="891.9" cy="121.4" r="3.58"/><circle cx="890.1" cy="95.4" r="3.58"/><circle cx="818.0" cy="146.9" r="3.58"/><circle cx="869.0" cy="72.5" r="3.58"/><circle cx="863.7" cy="84.2" r="3.58"/><circle cx="854.8" cy="72.2" r="3.58"/><circle cx="829.6" cy="130.5" r="3.58"/><circle cx="867.3" cy="85.7" r="3.58"/><circle cx="914.9" cy="99.3" r="3.58"/><circle cx="866.4" cy="90.3" r="3.58"/><circle cx="895.0" cy="151.7" r="3.58"/><circle cx="842.4" cy="168.1" r="3.58"/><circle cx="842.4" cy="116.8" r="3.58"/><circle cx="851.6" cy="120.1" r="3.58"/><circle cx="871.0" cy="146.1" r="3.58"/><circle cx="891.8" cy="85.2" r="3.58"/><circle cx="868.3" cy="93.8" r="3.58"/><circle cx="857.6" cy="141.3" r="3.58"/><circle cx="839.7" cy="88.9" r="3.58"/><circle cx="885.3" cy="97.0" r="3.58"/><circle cx="902.3" cy="116.4" r="3.58"/><circle cx="853.2" cy="128.5" r="3.58"/><circle cx="876.5" cy="127.9" r="3.58"/><circle cx="859.8" cy="75.7" r="3.58"/><circle cx="838.8" cy="93.4" r="3.58"/><circle cx="821.5" cy="86.8" r="3.58"/><circle cx="877.4" cy="137.9" r="3.58"/><circle cx="857.9" cy="103.8" r="3.58"/><circle cx="837.9" cy="103.0" r="3.58"/><circle cx="876.8" cy="79.7" r="3.58"/><circle cx="869.6" cy="93.3" r="3.58"/><circle cx="870.1" cy="172.1" r="3.58"/><circle cx="811.5" cy="153.8" r="3.58"/><circle cx="839.7" cy="139.8" r="3.58"/><circle cx="871.0" cy="79.2" r="3.58"/><circle cx="849.2" cy="101.2" r="3.58"/><circle cx="871.7" cy="134.4" r="3.58"/><circle cx="880.0" cy="169.9" r="3.58"/><circle cx="849.0" cy="146.8" r="3.58"/><circle cx="864.6" cy="163.1" r="3.58"/><circle cx="835.5" cy="145.5" r="3.58"/><circle cx="861.8" cy="167.8" r="3.58"/><circle cx="858.6" cy="92.4" r="3.58"/><circle cx="881.0" cy="139.6" r="3.58"/><circle cx="807.5" cy="92.8" r="3.58"/><circle cx="862.7" cy="91.5" r="3.58"/><circle cx="853.5" cy="102.0" r="3.58"/><circle cx="901.3" cy="100.8" r="3.58"/><circle cx="818.9" cy="173.6" r="3.58"/><circle cx="861.0" cy="137.4" r="3.58"/><circle cx="845.9" cy="91.2" r="3.58"/><circle cx="890.6" cy="110.2" r="3.58"/><circle cx="838.0" cy="156.6" r="3.58"/><circle cx="872.4" cy="113.6" r="3.58"/><circle cx="890.5" cy="93.9" r="3.58"/><circle cx="927.0" cy="105.9" r="3.58"/><circle cx="822.7" cy="85.8" r="3.58"/><circle cx="813.0" cy="91.0" r="3.58"/><circle cx="847.6" cy="133.6" r="3.58"/><circle cx="817.5" cy="153.4" r="3.58"/><circle cx="820.9" cy="155.2" r="3.58"/><circle cx="852.8" cy="90.9" r="3.58"/><circle cx="862.9" cy="135.6" r="3.58"/><circle cx="822.9" cy="108.8" r="3.58"/><circle cx="885.8" cy="82.1" r="3.58"/><circle cx="846.4" cy="102.0" r="3.58"/><circle cx="869.2" cy="164.4" r="3.58"/><circle cx="816.5" cy="128.8" r="3.58"/><circle cx="863.2" cy="83.3" r="3.58"/><circle cx="886.6" cy="94.7" r="3.58"/><circle cx="899.4" cy="91.3" r="3.58"/><circle cx="865.3" cy="102.0" r="3.58"/><circle cx="922.1" cy="104.4" r="3.58"/><circle cx="871.8" cy="78.4" r="3.58"/><circle cx="831.5" cy="99.9" r="3.58"/><circle cx="852.9" cy="67.3" r="3.58"/><circle cx="823.9" cy="152.6" r="3.58"/><circle cx="899.4" cy="137.0" r="3.58"/><circle cx="872.1" cy="144.1" r="3.58"/><circle cx="842.9" cy="136.6" r="3.58"/><circle cx="859.4" cy="101.7" r="3.58"/><circle cx="832.6" cy="172.0" r="3.58"/><circle cx="837.5" cy="130.5" r="3.58"/><circle cx="841.1" cy="166.1" r="3.58"/><circle cx="847.3" cy="112.1" r="3.58"/><circle cx="868.1" cy="89.4" r="3.58"/><circle cx="811.9" cy="143.1" r="3.58"/><circle cx="870.2" cy="92.1" r="3.58"/><circle cx="860.7" cy="85.7" r="3.58"/><circle cx="828.4" cy="84.9" r="3.58"/><circle cx="896.8" cy="85.6" r="3.58"/><circle cx="866.7" cy="89.8" r="3.58"/><circle cx="861.7" cy="100.9" r="3.58"/><circle cx="850.7" cy="100.5" r="3.58"/><circle cx="852.9" cy="127.5" r="3.58"/><circle cx="847.3" cy="157.6" r="3.58"/><circle cx="852.9" cy="100.0" r="3.58"/><circle cx="880.2" cy="112.3" r="3.58"/><circle cx="881.6" cy="109.6" r="3.58"/><circle cx="890.9" cy="101.2" r="3.58"/><circle cx="875.9" cy="144.9" r="3.58"/><circle cx="895.8" cy="99.9" r="3.58"/><circle cx="829.6" cy="152.6" r="3.58"/><circle cx="845.4" cy="146.3" r="3.58"/><circle cx="892.3" cy="86.3" r="3.58"/><circle cx="838.7" cy="130.5" r="3.58"/><circle cx="882.2" cy="113.9" r="3.58"/><circle cx="897.0" cy="88.8" r="3.58"/><circle cx="851.5" cy="117.0" r="3.58"/><circle cx="854.6" cy="111.8" r="3.58"/><circle cx="899.6" cy="88.5" r="3.58"/><circle cx="804.4" cy="137.7" r="3.58"/><circle cx="882.8" cy="149.0" r="3.58"/><circle cx="883.5" cy="110.0" r="3.58"/><circle cx="876.6" cy="108.2" r="3.58"/><circle cx="848.5" cy="91.7" r="3.58"/><circle cx="883.2" cy="99.5" r="3.58"/><circle cx="876.2" cy="147.5" r="3.58"/><circle cx="877.4" cy="101.5" r="3.58"/><circle cx="891.1" cy="166.7" r="3.58"/><circle cx="894.5" cy="105.0" r="3.58"/><circle cx="902.7" cy="143.3" r="3.58"/><circle cx="902.1" cy="115.2" r="3.58"/><circle cx="849.8" cy="116.2" r="3.58"/><circle cx="829.9" cy="131.2" r="3.58"/><circle cx="875.3" cy="108.5" r="3.58"/><circle cx="864.2" cy="98.2" r="3.58"/><circle cx="895.2" cy="156.7" r="3.58"/><circle cx="865.4" cy="161.0" r="3.58"/><circle cx="866.3" cy="110.5" r="3.58"/><circle cx="909.6" cy="98.9" r="3.58"/><circle cx="889.5" cy="107.9" r="3.58"/><circle cx="824.7" cy="118.5" r="3.58"/><circle cx="847.2" cy="84.0" r="3.58"/><circle cx="823.2" cy="137.9" r="3.58"/><circle cx="849.1" cy="96.9" r="3.58"/><circle cx="884.7" cy="149.6" r="3.58"/><circle cx="828.4" cy="142.5" r="3.58"/><circle cx="888.5" cy="150.7" r="3.58"/><circle cx="840.1" cy="83.7" r="3.58"/><circle cx="885.6" cy="84.1" r="3.58"/><circle cx="866.3" cy="93.8" r="3.58"/><circle cx="839.5" cy="135.1" r="3.58"/><circle cx="860.4" cy="157.1" r="3.58"/><circle cx="827.6" cy="167.2" r="3.58"/><circle cx="840.0" cy="160.7" r="3.58"/><circle cx="884.5" cy="114.3" r="3.58"/><circle cx="846.5" cy="77.9" r="3.58"/><circle cx="868.2" cy="145.3" r="3.58"/><circle cx="897.8" cy="166.1" r="3.58"/><circle cx="812.4" cy="85.7" r="3.58"/><circle cx="866.3" cy="79.6" r="3.58"/><circle cx="854.4" cy="167.9" r="3.58"/><circle cx="841.0" cy="100.8" r="3.58"/><circle cx="834.0" cy="105.9" r="3.58"/><circle cx="897.8" cy="125.7" r="3.58"/><circle cx="871.9" cy="127.5" r="3.58"/><circle cx="917.9" cy="107.8" r="3.58"/><circle cx="883.0" cy="119.1" r="3.58"/><circle cx="841.1" cy="95.3" r="3.58"/><circle cx="907.2" cy="104.3" r="3.58"/><circle cx="858.7" cy="131.1" r="3.58"/><circle cx="910.6" cy="93.8" r="3.58"/><circle cx="820.4" cy="150.7" r="3.58"/><circle cx="817.1" cy="138.5" r="3.58"/><circle cx="900.5" cy="130.2" r="3.58"/><circle cx="857.2" cy="122.9" r="3.58"/><circle cx="891.8" cy="96.9" r="3.58"/><circle cx="894.5" cy="118.5" r="3.58"/><circle cx="883.7" cy="115.9" r="3.58"/><circle cx="833.9" cy="134.2" r="3.58"/><circle cx="875.8" cy="146.9" r="3.58"/><circle cx="888.6" cy="101.3" r="3.58"/><circle cx="854.8" cy="70.5" r="3.58"/><circle cx="862.7" cy="94.0" r="3.58"/><circle cx="880.5" cy="81.1" r="3.58"/><circle cx="867.2" cy="115.8" r="3.58"/><circle cx="864.7" cy="129.2" r="3.58"/><circle cx="907.5" cy="109.3" r="3.58"/><circle cx="865.0" cy="71.2" r="3.58"/><circle cx="871.0" cy="110.0" r="3.58"/><circle cx="865.4" cy="84.5" r="3.58"/><circle cx="807.4" cy="157.1" r="3.58"/><circle cx="887.9" cy="172.6" r="3.58"/><circle cx="899.0" cy="132.8" r="3.58"/><circle cx="855.8" cy="159.2" r="3.58"/><circle cx="900.2" cy="156.5" r="3.58"/><circle cx="872.7" cy="121.8" r="3.58"/><circle cx="823.9" cy="84.9" r="3.58"/><circle cx="822.8" cy="115.7" r="3.58"/><circle cx="861.7" cy="78.0" r="3.58"/><circle cx="866.4" cy="89.8" r="3.58"/><circle cx="862.1" cy="113.4" r="3.58"/><circle cx="860.2" cy="126.2" r="3.58"/><circle cx="891.6" cy="142.9" r="3.58"/><circle cx="838.4" cy="98.3" r="3.58"/><circle cx="857.1" cy="143.3" r="3.58"/><circle cx="865.6" cy="109.1" r="3.58"/><circle cx="883.1" cy="91.9" r="3.58"/><circle cx="890.0" cy="120.7" r="3.58"/><circle cx="824.2" cy="100.3" r="3.58"/><circle cx="883.2" cy="173.0" r="3.58"/><circle cx="816.9" cy="157.0" r="3.58"/><circle cx="854.2" cy="95.4" r="3.58"/><circle cx="854.2" cy="164.6" r="3.58"/><circle cx="895.1" cy="137.6" r="3.58"/><circle cx="858.4" cy="131.9" r="3.58"/><circle cx="854.9" cy="86.0" r="3.58"/><circle cx="877.7" cy="92.1" r="3.58"/><circle cx="814.9" cy="129.6" r="3.58"/><circle cx="899.5" cy="106.6" r="3.58"/><circle cx="810.5" cy="150.4" r="3.58"/><circle cx="857.9" cy="136.7" r="3.58"/><circle cx="845.0" cy="76.6" r="3.58"/><circle cx="860.2" cy="141.3" r="3.58"/><circle cx="814.3" cy="120.9" r="3.58"/><circle cx="893.3" cy="134.5" r="3.58"/><circle cx="918.5" cy="101.4" r="3.58"/><circle cx="884.6" cy="157.5" r="3.58"/><circle cx="859.2" cy="137.8" r="3.58"/><circle cx="867.1" cy="134.2" r="3.58"/><circle cx="860.4" cy="115.1" r="3.58"/><circle cx="850.9" cy="137.5" r="3.58"/><circle cx="833.0" cy="112.5" r="3.58"/><circle cx="815.3" cy="105.1" r="3.58"/><circle cx="815.6" cy="116.6" r="3.58"/><circle cx="874.5" cy="97.9" r="3.58"/><circle cx="874.3" cy="136.5" r="3.58"/><circle cx="828.5" cy="149.7" r="3.58"/><circle cx="868.0" cy="131.3" r="3.58"/><circle cx="865.9" cy="83.3" r="3.58"/><circle cx="830.9" cy="172.3" r="3.58"/><circle cx="849.1" cy="102.2" r="3.58"/><circle cx="871.0" cy="121.0" r="3.58"/><circle cx="885.2" cy="119.6" r="3.58"/><circle cx="856.4" cy="149.0" r="3.58"/><circle cx="828.9" cy="132.0" r="3.58"/><circle cx="861.1" cy="101.3" r="3.58"/><circle cx="879.5" cy="146.3" r="3.58"/><circle cx="869.8" cy="83.8" r="3.58"/><circle cx="858.4" cy="90.8" r="3.58"/><circle cx="816.4" cy="158.6" r="3.58"/><circle cx="831.7" cy="113.2" r="3.58"/><circle cx="842.3" cy="161.2" r="3.58"/><circle cx="882.4" cy="97.3" r="3.58"/><circle cx="890.5" cy="85.0" r="3.58"/><circle cx="897.1" cy="94.5" r="3.58"/><circle cx="818.4" cy="96.5" r="3.58"/><circle cx="867.8" cy="122.5" r="3.58"/><circle cx="900.6" cy="138.5" r="3.58"/><circle cx="877.0" cy="161.9" r="3.58"/><circle cx="882.3" cy="93.8" r="3.58"/><circle cx="881.1" cy="108.9" r="3.58"/><circle cx="825.1" cy="90.1" r="3.58"/><circle cx="898.9" cy="88.5" r="3.58"/><circle cx="879.4" cy="153.9" r="3.58"/><circle cx="858.0" cy="129.5" r="3.58"/><circle cx="891.4" cy="81.2" r="3.58"/><circle cx="872.7" cy="107.1" r="3.58"/><circle cx="863.1" cy="87.8" r="3.58"/><circle cx="843.1" cy="122.3" r="3.58"/><circle cx="874.7" cy="119.3" r="3.58"/><circle cx="904.7" cy="109.6" r="3.58"/><circle cx="874.7" cy="142.5" r="3.58"/><circle cx="874.3" cy="171.1" r="3.58"/><circle cx="859.6" cy="91.9" r="3.58"/><circle cx="911.5" cy="93.2" r="3.58"/><circle cx="867.4" cy="105.3" r="3.58"/><circle cx="881.4" cy="130.7" r="3.58"/><circle cx="832.7" cy="127.4" r="3.58"/></g>
<circle cx="803.4" cy="250.8" r="191.8" fill="none" stroke="#000" stroke-width="1"/>
<circle cx="867.3" cy="122.9" r="13.15" fill="none" stroke="#988ED5" stroke-width="4.7"/>
<text x="106.9" y="495.9" text-anchor="middle" class="tk">−1</text>
<text x="77.6" y="450.7" text-anchor="end" class="tk">−1</text>
<text x="298.7" y="495.9" text-anchor="middle" class="tk">0</text>
<text x="76.3" y="258.9" text-anchor="end" class="tk">0</text>
<text x="490.5" y="495.9" text-anchor="middle" class="tk">1</text>
<text x="77.6" y="67.1" text-anchor="end" class="tk">1</text>
<text x="613.9" y="495.9" text-anchor="middle" class="tk">−1</text>
<text x="805.7" y="495.9" text-anchor="middle" class="tk">0</text>
<text x="997.5" y="495.9" text-anchor="middle" class="tk">1</text>
<text x="135.6" y="30.5" class="ti">Default Prior (</text>
<text transform="translate(416.5,30.5) scale(1.12,1)" class="ti tm">ϕ</text>
<text x="440.1" y="30.5" class="ti">)</text>
<text x="622.0" y="30.5" class="ti">Insightful Prior (</text>
<text transform="translate(944.0,30.5) scale(1.07,0.96)" class="ti tm">π</text>
<text x="966.0" y="30.5" class="ti">)</text>
<g transform="translate(275.4,536.8)"><text transform="scale(1.22,1)" x="0" y="0" class="m rho">ρ</text><text x="20.6" y="10.0" class="m sub">x</text></g>
<g transform="translate(782.4,536.8)"><text transform="scale(1.22,1)" x="0" y="0" class="m rho">ρ</text><text x="20.6" y="10.0" class="m sub">x</text></g>
<g transform="translate(18.2,270.2) rotate(-90)"><text transform="scale(1.22,1)" x="0" y="0" class="m rho">ρ</text><text x="20.6" y="10.0" class="m sub">z</text></g>
<rect x="296.3" y="572.4" width="477.5" height="40.2" fill="#E5E5E5"/>
<circle cx="329.4" cy="592.7" r="3.58" fill="#E24A33" stroke="#fff" stroke-width="0.65"/>
<text x="371.2" y="599.2" class="lg">Prior Sample</text>
<circle cx="595.5" cy="592.6" r="13.15" fill="none" stroke="#988ED5" stroke-width="4.7"/>
<text x="637.3" y="599.2" class="lg">Prior Mean</text>
</svg>
</body></html>
